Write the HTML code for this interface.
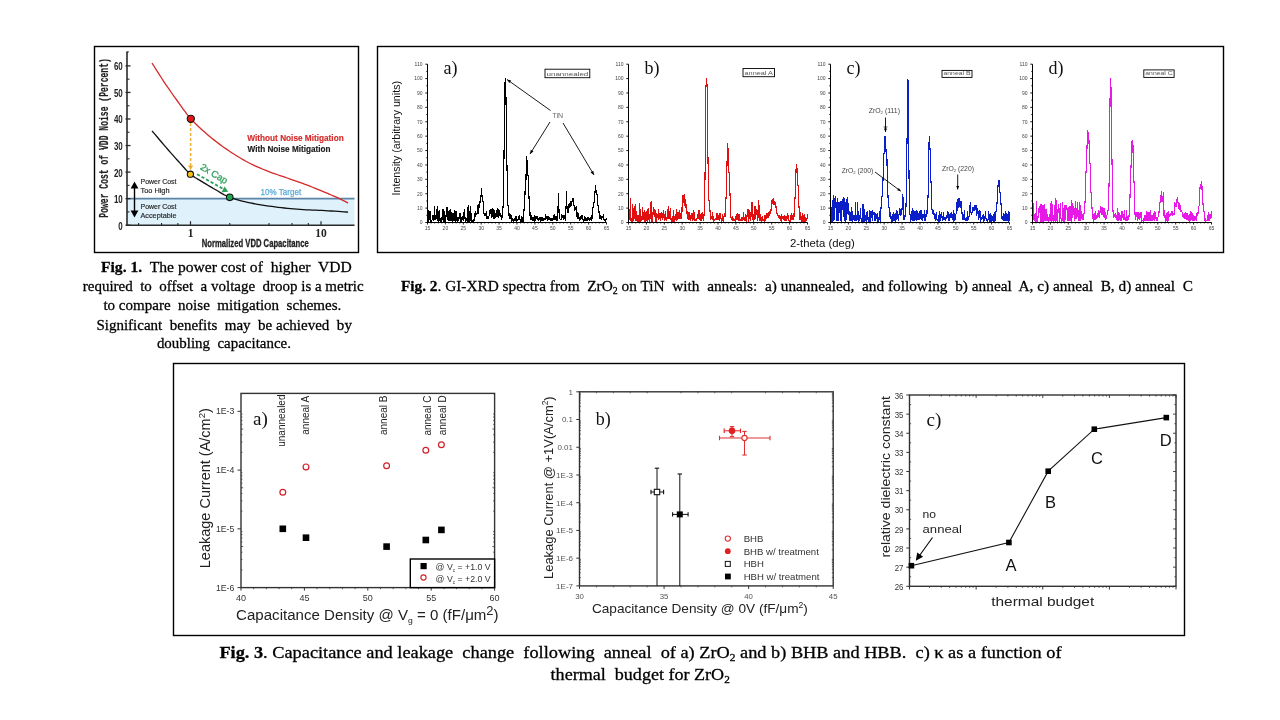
<!DOCTYPE html>
<html><head><meta charset="utf-8"><style>
html,body{margin:0;padding:0;background:#fff;width:1280px;height:720px;overflow:hidden}
svg{display:block;position:absolute;left:0;top:0;will-change:transform}
</style></head><body>
<svg width="1280" height="720" viewBox="0 0 1280 720">
<rect x="94.5" y="46.5" width="264" height="206" stroke="#000" stroke-width="1.4" fill="none" />
<rect x="127.0" y="198.65" width="227.5" height="26.55" fill="#dff1fa"/>
<line x1="127" y1="198.65" x2="354.5" y2="198.65" stroke="#5a84a8" stroke-width="1.6" />
<path d="M152,63 L153.01,64.59 L154.37,66.73 L155.98,69.28 L157.77,72.11 L159.65,75.06 L161.54,78 L163.35,80.8 L165,83.3 L166.51,85.55 L167.96,87.68 L169.38,89.74 L170.78,91.75 L172.19,93.75 L173.64,95.77 L175.13,97.84 L176.7,100 L178.32,102.25 L179.95,104.56 L181.61,106.92 L183.32,109.3 L185.08,111.69 L186.9,114.06 L188.81,116.41 L190.8,118.7 L192.9,120.96 L195.11,123.23 L197.41,125.48 L199.76,127.71 L202.16,129.9 L204.58,132.06 L207,134.16 L209.4,136.2 L211.8,138.18 L214.21,140.12 L216.65,142.01 L219.1,143.86 L221.56,145.66 L224.01,147.42 L226.46,149.13 L228.9,150.8 L231.33,152.42 L233.76,154 L236.18,155.53 L238.61,157.02 L241.03,158.46 L243.45,159.85 L245.88,161.2 L248.3,162.5 L250.72,163.74 L253.15,164.93 L255.57,166.07 L257.99,167.16 L260.42,168.21 L262.84,169.23 L265.27,170.22 L267.7,171.2 L270.14,172.14 L272.61,173.05 L275.08,173.91 L277.55,174.75 L280.01,175.57 L282.44,176.38 L284.84,177.19 L287.2,178 L289.49,178.8 L291.72,179.57 L293.9,180.32 L296.07,181.07 L298.24,181.83 L300.44,182.62 L302.68,183.43 L305,184.3 L307.43,185.23 L309.96,186.21 L312.56,187.24 L315.18,188.28 L317.77,189.33 L320.3,190.36 L322.72,191.36 L325,192.3 L327.16,193.21 L329.26,194.1 L331.29,194.98 L333.24,195.84 L335.1,196.66 L336.85,197.45 L338.49,198.2 L340,198.9 L341.4,199.57 L342.7,200.22 L343.9,200.84 L344.99,201.41 L345.96,201.94 L346.81,202.4 L347.52,202.79 L348.1,203.1" fill="none" stroke="#d42a2a" stroke-width="1.3"/>
<path d="M152,130.8 L153.28,132.31 L155,134.35 L157.05,136.78 L159.31,139.46 L161.68,142.26 L164.05,145.05 L166.29,147.67 L168.3,150 L170.15,152.12 L171.96,154.18 L173.74,156.19 L175.48,158.13 L177.15,159.98 L178.75,161.76 L180.27,163.43 L181.7,165 L183,166.44 L184.16,167.76 L185.22,168.98 L186.22,170.11 L187.2,171.17 L188.19,172.2 L189.25,173.2 L190.4,174.2 L191.62,175.16 L192.85,176.05 L194.12,176.89 L195.41,177.7 L196.75,178.5 L198.14,179.32 L199.59,180.18 L201.1,181.1 L202.7,182.08 L204.38,183.11 L206.12,184.17 L207.91,185.24 L209.73,186.33 L211.56,187.41 L213.39,188.47 L215.2,189.5 L216.96,190.52 L218.67,191.54 L220.36,192.57 L222.07,193.58 L223.83,194.56 L225.68,195.52 L227.64,196.43 L229.75,197.3 L232,198.12 L234.37,198.89 L236.83,199.63 L239.39,200.34 L242.03,201.01 L244.73,201.66 L247.49,202.29 L250.3,202.9 L253.19,203.49 L256.18,204.05 L259.25,204.58 L262.37,205.09 L265.53,205.58 L268.71,206.04 L271.87,206.48 L275,206.9 L278.11,207.29 L281.23,207.66 L284.35,208 L287.48,208.32 L290.61,208.62 L293.74,208.9 L296.87,209.16 L300,209.4 L303.14,209.61 L306.29,209.78 L309.46,209.93 L312.62,210.06 L315.76,210.19 L318.88,210.31 L321.97,210.44 L325,210.6 L328.14,210.78 L331.45,210.99 L334.82,211.21 L338.11,211.42 L341.21,211.63 L343.99,211.82 L346.33,211.98 L348.1,212.1" fill="none" stroke="#111" stroke-width="1.3"/>
<line x1="127" y1="52" x2="127" y2="226" stroke="#2a2a2a" stroke-width="1.6" />
<line x1="126.2" y1="225.2" x2="354.5" y2="225.2" stroke="#2a2a2a" stroke-width="1.6" />
<path d="M126.2,52.5 Q127.0,51.5 128.8,52" stroke="#2a2a2a" stroke-width="1.2" fill="none"/>
<line x1="125.5" y1="225.2" x2="130.5" y2="225.2" stroke="#2a2a2a" stroke-width="1.3" />
<text x="122.8" y="229.7" font-size="11.4" font-family='"Liberation Sans", sans-serif' fill="#222" text-anchor="end" font-weight="bold" transform="translate(122.8,0) scale(0.7,1) translate(-122.8,0)">0</text>
<line x1="125.5" y1="198.65" x2="130.5" y2="198.65" stroke="#2a2a2a" stroke-width="1.3" />
<text x="122.8" y="203.15" font-size="11.4" font-family='"Liberation Sans", sans-serif' fill="#222" text-anchor="end" font-weight="bold" transform="translate(122.8,0) scale(0.7,1) translate(-122.8,0)">10</text>
<line x1="125.5" y1="172.1" x2="130.5" y2="172.1" stroke="#2a2a2a" stroke-width="1.3" />
<text x="122.8" y="176.6" font-size="11.4" font-family='"Liberation Sans", sans-serif' fill="#222" text-anchor="end" font-weight="bold" transform="translate(122.8,0) scale(0.7,1) translate(-122.8,0)">20</text>
<line x1="125.5" y1="145.55" x2="130.5" y2="145.55" stroke="#2a2a2a" stroke-width="1.3" />
<text x="122.8" y="150.05" font-size="11.4" font-family='"Liberation Sans", sans-serif' fill="#222" text-anchor="end" font-weight="bold" transform="translate(122.8,0) scale(0.7,1) translate(-122.8,0)">30</text>
<line x1="125.5" y1="119" x2="130.5" y2="119" stroke="#2a2a2a" stroke-width="1.3" />
<text x="122.8" y="123.5" font-size="11.4" font-family='"Liberation Sans", sans-serif' fill="#222" text-anchor="end" font-weight="bold" transform="translate(122.8,0) scale(0.7,1) translate(-122.8,0)">40</text>
<line x1="125.5" y1="92.45" x2="130.5" y2="92.45" stroke="#2a2a2a" stroke-width="1.3" />
<text x="122.8" y="96.95" font-size="11.4" font-family='"Liberation Sans", sans-serif' fill="#222" text-anchor="end" font-weight="bold" transform="translate(122.8,0) scale(0.7,1) translate(-122.8,0)">50</text>
<line x1="125.5" y1="65.9" x2="130.5" y2="65.9" stroke="#2a2a2a" stroke-width="1.3" />
<text x="122.8" y="70.4" font-size="11.4" font-family='"Liberation Sans", sans-serif' fill="#222" text-anchor="end" font-weight="bold" transform="translate(122.8,0) scale(0.7,1) translate(-122.8,0)">60</text>
<line x1="127" y1="211.92" x2="129.5" y2="211.92" stroke="#2a2a2a" stroke-width="1.1" />
<line x1="127" y1="185.38" x2="129.5" y2="185.38" stroke="#2a2a2a" stroke-width="1.1" />
<line x1="127" y1="158.82" x2="129.5" y2="158.82" stroke="#2a2a2a" stroke-width="1.1" />
<line x1="127" y1="132.27" x2="129.5" y2="132.27" stroke="#2a2a2a" stroke-width="1.1" />
<line x1="127" y1="105.72" x2="129.5" y2="105.72" stroke="#2a2a2a" stroke-width="1.1" />
<line x1="127" y1="79.18" x2="129.5" y2="79.18" stroke="#2a2a2a" stroke-width="1.1" />
<line x1="138.57" y1="225.2" x2="138.57" y2="223" stroke="#2a2a2a" stroke-width="1.1" />
<line x1="161.55" y1="225.2" x2="161.55" y2="223" stroke="#2a2a2a" stroke-width="1.1" />
<line x1="177.85" y1="225.2" x2="177.85" y2="223" stroke="#2a2a2a" stroke-width="1.1" />
<line x1="229.78" y1="225.2" x2="229.78" y2="223" stroke="#2a2a2a" stroke-width="1.1" />
<line x1="269.07" y1="225.2" x2="269.07" y2="223" stroke="#2a2a2a" stroke-width="1.1" />
<line x1="292.05" y1="225.2" x2="292.05" y2="223" stroke="#2a2a2a" stroke-width="1.1" />
<line x1="308.35" y1="225.2" x2="308.35" y2="223" stroke="#2a2a2a" stroke-width="1.1" />
<line x1="190.5" y1="225.2" x2="190.5" y2="221.2" stroke="#2a2a2a" stroke-width="1.2" />
<line x1="321" y1="225.2" x2="321" y2="221.2" stroke="#2a2a2a" stroke-width="1.2" />
<text x="190.5" y="237" font-size="11.5" font-family='"Liberation Serif", serif' fill="#222" text-anchor="middle" font-weight="bold" >1</text>
<text x="321" y="237" font-size="11.5" font-family='"Liberation Serif", serif' fill="#222" text-anchor="middle" font-weight="bold" >10</text>
<text x="201.8" y="246.8" font-size="10.4" font-family='"Liberation Sans", sans-serif' fill="#222" text-anchor="start" font-weight="bold" textLength="107" lengthAdjust="spacingAndGlyphs" stroke="#222" stroke-width="0.3">Normalized VDD Capacitance</text>
<text x="0" y="0" font-size="12" font-family='"Liberation Mono", monospace' font-weight="bold" fill="#222" text-anchor="middle" stroke="#222" stroke-width="0.15" textLength="159.5" lengthAdjust="spacingAndGlyphs" transform="translate(108.2,137.9) rotate(-90)">Power Cost of VDD Noise (Percent)</text>
<text x="247.3" y="140.9" font-size="8.6" font-family='"Liberation Sans", sans-serif' fill="#d42a2a" text-anchor="start" font-weight="bold" textLength="96.4" lengthAdjust="spacingAndGlyphs" stroke="#d42a2a" stroke-width="0.15">Without Noise Mitigation</text>
<text x="247.5" y="151.8" font-size="8.6" font-family='"Liberation Sans", sans-serif' fill="#1a1a1a" text-anchor="start" font-weight="bold" textLength="83" lengthAdjust="spacingAndGlyphs" stroke="#1a1a1a" stroke-width="0.15">With Noise Mitigation</text>
<text x="260.6" y="195.2" font-size="8.6" font-family='"Liberation Sans", sans-serif' fill="#5aaad6" text-anchor="start" textLength="40.6" lengthAdjust="spacingAndGlyphs" stroke="#5aaad6" stroke-width="0.25">10% Target</text>
<text x="140.5" y="183.5" font-size="6.8" font-family='"Liberation Sans", sans-serif' fill="#2a2a2a" text-anchor="start" textLength="36" lengthAdjust="spacingAndGlyphs" stroke="#2a2a2a" stroke-width="0.18">Power Cost</text>
<text x="140.5" y="192.8" font-size="6.8" font-family='"Liberation Sans", sans-serif' fill="#2a2a2a" text-anchor="start" textLength="29" lengthAdjust="spacingAndGlyphs" stroke="#2a2a2a" stroke-width="0.18">Too High</text>
<text x="140.5" y="208.5" font-size="6.8" font-family='"Liberation Sans", sans-serif' fill="#2a2a2a" text-anchor="start" textLength="36" lengthAdjust="spacingAndGlyphs" stroke="#2a2a2a" stroke-width="0.18">Power Cost</text>
<text x="140.5" y="217.8" font-size="6.8" font-family='"Liberation Sans", sans-serif' fill="#2a2a2a" text-anchor="start" textLength="36" lengthAdjust="spacingAndGlyphs" stroke="#2a2a2a" stroke-width="0.18">Acceptable</text>
<line x1="134.5" y1="185" x2="134.5" y2="214" stroke="#000" stroke-width="1.4" />
<path d="M130.6,188.5 L134.5,181.5 L138.4,188.5 Z" fill="#000"/>
<path d="M130.6,210.5 L134.5,217.5 L138.4,210.5 Z" fill="#000"/>
<line x1="190.6" y1="123" x2="190.6" y2="166.5" stroke="#eeb035" stroke-width="1.5" stroke-dasharray="3,2"/>
<path d="M188,165.5 L190.6,170.2 L193.2,165.5 Z" fill="#eeb035"/>
<line x1="197" y1="174.2" x2="224.5" y2="189.6" stroke="#2aa05a" stroke-width="1.8" stroke-dasharray="3.2,2"/>
<path d="M221.5,192.3 L228.3,191.8 L224.6,186.4 Z" fill="#2aa05a"/>
<text x="0" y="0" font-size="9.5" font-family='"Liberation Sans", sans-serif' fill="#35a060" stroke="#35a060" stroke-width="0.3" textLength="30" lengthAdjust="spacingAndGlyphs" transform="translate(199.5,168.8) rotate(31)">2x Cap</text>
<circle cx="190.8" cy="118.8" r="3.6" fill="#e01818" stroke="#111" stroke-width="1.1"/>
<circle cx="190.4" cy="174.2" r="3.1" fill="#f5c21b" stroke="#111" stroke-width="1.1"/>
<circle cx="229.75" cy="197.3" r="3.3" fill="#1fa851" stroke="#111" stroke-width="1.1"/>
<rect x="377.5" y="46.5" width="846" height="206" stroke="#000" stroke-width="1.4" fill="none" />
<path d="M427.50,220.3 L427.89,221.7 L428.28,221.7 L428.67,209.7 L429.06,211.9 L429.45,216.1 L429.83,219.5 L430.22,211.2 L430.61,221.6 L431.00,221.3 L431.39,219.8 L431.78,221.7 L432.17,219.1 L432.56,218.8 L432.95,214.7 L433.34,217.8 L433.73,220.6 L434.12,219.3 L434.50,206.4 L434.89,217.1 L435.28,214.8 L435.67,218.8 L436.06,218.5 L436.45,214.7 L436.84,212.1 L437.23,207.6 L437.62,205.8 L438.01,220.9 L438.40,221.7 L438.78,210.6 L439.17,220.7 L439.56,210.5 L439.95,221.3 L440.34,218.4 L440.73,221.8 L441.12,217.2 L441.51,218.0 L441.90,221.7 L442.29,210.8 L442.68,219.5 L443.07,209.1 L443.45,210.3 L443.84,221.6 L444.23,210.8 L444.62,220.9 L445.01,221.6 L445.40,218.7 L445.79,221.6 L446.18,211.9 L446.57,208.8 L446.96,207.2 L447.35,211.1 L447.73,219.8 L448.12,217.7 L448.51,221.1 L448.90,211.3 L449.29,213.9 L449.68,210.1 L450.07,220.8 L450.46,218.9 L450.85,208.7 L451.24,221.0 L451.63,216.2 L452.02,218.5 L452.40,221.7 L452.79,213.0 L453.18,221.3 L453.57,212.6 L453.96,219.5 L454.35,221.4 L454.74,210.0 L455.13,211.9 L455.52,220.0 L455.91,221.8 L456.30,217.8 L456.68,210.8 L457.07,220.9 L457.46,216.8 L457.85,221.5 L458.24,218.8 L458.63,219.2 L459.02,217.7 L459.41,219.0 L459.80,212.6 L460.19,214.2 L460.58,217.9 L460.97,221.6 L461.35,220.7 L461.74,217.2 L462.13,219.0 L462.52,218.0 L462.91,217.7 L463.30,214.7 L463.69,220.8 L464.08,211.6 L464.47,208.9 L464.86,215.3 L465.25,221.4 L465.63,221.5 L466.02,221.1 L466.41,218.4 L466.80,221.4 L467.19,220.1 L467.58,207.1 L467.97,221.8 L468.36,204.6 L468.75,208.2 L469.14,221.8 L469.53,221.7 L469.92,212.2 L470.30,209.8 L470.69,206.4 L471.08,221.9 L471.47,212.9 L471.86,222.0 L472.25,220.8 L472.64,221.2 L473.03,221.0 L473.42,221.9 L473.81,220.5 L474.20,218.2 L474.58,220.5 L474.97,213.0 L475.36,216.5 L475.75,211.1 L476.14,214.3 L476.53,214.5 L476.92,213.1 L477.31,212.5 L477.70,205.2 L478.09,214.4 L478.48,204.2 L478.87,208.5 L479.25,205.4 L479.64,201.4 L480.03,203.2 L480.42,197.9 L480.81,200.1 L481.20,193.1 L481.59,188.2 L481.98,195.3 L482.37,197.4 L482.76,196.9 L483.15,204.0 L483.53,207.1 L483.92,212.9 L484.31,214.6 L484.70,213.6 L485.09,216.0 L485.48,212.6 L485.87,215.1 L486.26,211.0 L486.65,214.0 L487.04,218.9 L487.43,216.3 L487.82,218.1 L488.20,218.9 L488.59,218.7 L488.98,216.1 L489.37,213.9 L489.76,209.7 L490.15,212.9 L490.54,209.3 L490.93,213.5 L491.32,215.6 L491.71,218.1 L492.10,208.5 L492.48,216.2 L492.87,216.2 L493.26,209.2 L493.65,218.0 L494.04,218.0 L494.43,210.3 L494.82,210.1 L495.21,218.2 L495.60,217.3 L495.99,217.2 L496.38,212.5 L496.77,209.6 L497.15,217.4 L497.54,208.2 L497.93,216.3 L498.32,218.2 L498.71,209.5 L499.10,215.8 L499.49,209.6 L499.88,215.1 L500.27,214.7 L500.66,213.6 L501.05,217.2 L501.43,215.5 L501.82,219.8 L502.21,216.0 L502.60,214.8 L502.99,207.9 L503.38,194.1 L503.77,177.3 L504.16,140.9 L504.55,103.7 L504.94,84.2 L505.33,78.7 L505.72,78.6 L506.10,107.3 L506.49,136.6 L506.88,159.1 L507.27,186.1 L507.66,200.2 L508.05,206.3 L508.44,205.0 L508.83,216.0 L509.22,212.7 L509.61,218.9 L510.00,217.8 L510.38,218.0 L510.77,213.9 L511.16,216.1 L511.55,221.6 L511.94,218.1 L512.33,219.7 L512.72,220.7 L513.11,221.0 L513.50,218.8 L513.89,220.9 L514.28,218.2 L514.67,219.7 L515.05,220.7 L515.44,215.7 L515.83,218.4 L516.22,217.9 L516.61,215.7 L517.00,220.8 L517.39,220.6 L517.78,220.9 L518.17,218.5 L518.56,220.2 L518.95,216.3 L519.33,216.4 L519.72,215.4 L520.11,220.9 L520.50,221.1 L520.89,220.3 L521.28,221.2 L521.67,216.5 L522.06,221.6 L522.45,216.6 L522.84,220.9 L523.23,221.5 L523.62,220.6 L524.00,209.9 L524.39,210.2 L524.78,198.9 L525.17,189.1 L525.56,180.2 L525.95,181.4 L526.34,155.8 L526.73,168.9 L527.12,159.7 L527.51,169.9 L527.90,174.2 L528.28,179.2 L528.67,187.9 L529.06,199.4 L529.45,205.4 L529.84,216.0 L530.23,211.7 L530.62,220.4 L531.01,219.4 L531.40,219.6 L531.79,216.7 L532.18,217.4 L532.57,220.4 L532.95,220.8 L533.34,216.6 L533.73,220.2 L534.12,220.8 L534.51,215.4 L534.90,217.0 L535.29,220.3 L535.68,220.2 L536.07,216.0 L536.46,219.3 L536.85,215.8 L537.23,218.4 L537.62,220.2 L538.01,218.5 L538.40,220.3 L538.79,220.2 L539.18,217.2 L539.57,220.3 L539.96,218.3 L540.35,217.9 L540.74,219.9 L541.13,218.7 L541.52,216.6 L541.90,220.1 L542.29,220.3 L542.68,217.0 L543.07,219.3 L543.46,218.8 L543.85,220.3 L544.24,219.1 L544.63,219.0 L545.02,219.1 L545.41,220.1 L545.80,215.5 L546.18,216.0 L546.57,218.4 L546.96,217.2 L547.35,216.7 L547.74,220.1 L548.13,219.6 L548.52,217.7 L548.91,218.7 L549.30,216.8 L549.69,218.8 L550.08,219.5 L550.47,218.2 L550.85,220.3 L551.24,220.1 L551.63,219.3 L552.02,220.3 L552.41,220.3 L552.80,220.3 L553.19,217.6 L553.58,220.3 L553.97,215.8 L554.36,215.3 L554.75,220.2 L555.13,215.7 L555.52,217.2 L555.91,219.7 L556.30,216.3 L556.69,220.2 L557.08,220.1 L557.47,215.4 L557.86,215.4 L558.25,198.8 L558.64,192.6 L559.03,212.7 L559.42,217.1 L559.80,218.3 L560.19,220.0 L560.58,219.7 L560.97,220.2 L561.36,216.7 L561.75,215.0 L562.14,215.7 L562.53,218.4 L562.92,215.8 L563.31,216.0 L563.70,220.4 L564.08,218.4 L564.47,217.9 L564.86,215.0 L565.25,221.3 L565.64,214.7 L566.03,208.1 L566.42,191.1 L566.81,201.8 L567.20,213.2 L567.59,209.5 L567.98,211.3 L568.37,212.8 L568.75,206.2 L569.14,203.4 L569.53,205.9 L569.92,207.6 L570.31,203.1 L570.70,200.8 L571.09,206.2 L571.48,204.1 L571.87,202.9 L572.26,199.3 L572.65,199.6 L573.03,198.5 L573.42,205.4 L573.81,203.6 L574.20,207.7 L574.59,210.2 L574.98,210.0 L575.37,209.7 L575.76,208.3 L576.15,206.4 L576.54,217.4 L576.93,212.0 L577.32,217.9 L577.70,213.9 L578.09,219.3 L578.48,212.9 L578.87,216.7 L579.26,218.4 L579.65,221.1 L580.04,218.5 L580.43,219.2 L580.82,217.1 L581.21,215.2 L581.60,218.7 L581.98,217.1 L582.37,216.5 L582.76,218.5 L583.15,220.1 L583.54,221.1 L583.93,221.3 L584.32,216.2 L584.71,218.0 L585.10,220.5 L585.49,216.6 L585.88,218.6 L586.27,219.1 L586.65,218.7 L587.04,220.5 L587.43,217.1 L587.82,221.1 L588.21,217.0 L588.60,217.3 L588.99,219.9 L589.38,219.1 L589.77,221.4 L590.16,218.6 L590.55,217.8 L590.93,219.6 L591.32,221.3 L591.71,215.0 L592.10,219.2 L592.49,215.1 L592.88,208.1 L593.27,206.6 L593.66,205.1 L594.05,201.8 L594.44,194.5 L594.83,195.1 L595.22,188.5 L595.60,184.8 L595.99,191.2 L596.38,190.7 L596.77,193.4 L597.16,195.2 L597.55,199.0 L597.94,204.7 L598.33,210.3 L598.72,207.3 L599.11,213.8 L599.50,217.4 L599.88,217.9 L600.27,219.3 L600.66,215.6 L601.05,216.6 L601.44,219.0 L601.83,218.4 L602.22,217.4 L602.61,216.0 L603.00,217.9 L603.39,214.1 L603.78,218.9 L604.17,220.8 L604.55,220.1 L604.94,218.7 L605.33,221.1 L605.72,221.6 L606.11,218.1 L606.50,220.1" fill="none" stroke="#000000" stroke-width="1.1" stroke-linejoin="miter" shape-rendering="crispEdges"/>
<line x1="427.5" y1="64.2" x2="427.5" y2="223" stroke="#000" stroke-width="1.0" />
<line x1="427" y1="222.5" x2="606.5" y2="222.5" stroke="#000" stroke-width="1.0" />
<line x1="425.3" y1="222.5" x2="427.5" y2="222.5" stroke="#000" stroke-width="0.9" />
<text x="422.5" y="224.3" font-size="5" font-family='"Liberation Sans", sans-serif' fill="#444" text-anchor="end" >0</text>
<line x1="425.3" y1="208.11" x2="427.5" y2="208.11" stroke="#000" stroke-width="0.9" />
<text x="422.5" y="209.91" font-size="5" font-family='"Liberation Sans", sans-serif' fill="#444" text-anchor="end" >10</text>
<line x1="425.3" y1="193.72" x2="427.5" y2="193.72" stroke="#000" stroke-width="0.9" />
<text x="422.5" y="195.52" font-size="5" font-family='"Liberation Sans", sans-serif' fill="#444" text-anchor="end" >20</text>
<line x1="425.3" y1="179.33" x2="427.5" y2="179.33" stroke="#000" stroke-width="0.9" />
<text x="422.5" y="181.13" font-size="5" font-family='"Liberation Sans", sans-serif' fill="#444" text-anchor="end" >30</text>
<line x1="425.3" y1="164.94" x2="427.5" y2="164.94" stroke="#000" stroke-width="0.9" />
<text x="422.5" y="166.74" font-size="5" font-family='"Liberation Sans", sans-serif' fill="#444" text-anchor="end" >40</text>
<line x1="425.3" y1="150.55" x2="427.5" y2="150.55" stroke="#000" stroke-width="0.9" />
<text x="422.5" y="152.35" font-size="5" font-family='"Liberation Sans", sans-serif' fill="#444" text-anchor="end" >50</text>
<line x1="425.3" y1="136.15" x2="427.5" y2="136.15" stroke="#000" stroke-width="0.9" />
<text x="422.5" y="137.95" font-size="5" font-family='"Liberation Sans", sans-serif' fill="#444" text-anchor="end" >60</text>
<line x1="425.3" y1="121.76" x2="427.5" y2="121.76" stroke="#000" stroke-width="0.9" />
<text x="422.5" y="123.56" font-size="5" font-family='"Liberation Sans", sans-serif' fill="#444" text-anchor="end" >70</text>
<line x1="425.3" y1="107.37" x2="427.5" y2="107.37" stroke="#000" stroke-width="0.9" />
<text x="422.5" y="109.17" font-size="5" font-family='"Liberation Sans", sans-serif' fill="#444" text-anchor="end" >80</text>
<line x1="425.3" y1="92.98" x2="427.5" y2="92.98" stroke="#000" stroke-width="0.9" />
<text x="422.5" y="94.78" font-size="5" font-family='"Liberation Sans", sans-serif' fill="#444" text-anchor="end" >90</text>
<line x1="425.3" y1="78.59" x2="427.5" y2="78.59" stroke="#000" stroke-width="0.9" />
<text x="422.5" y="80.39" font-size="5" font-family='"Liberation Sans", sans-serif' fill="#444" text-anchor="end" >100</text>
<line x1="425.3" y1="64.2" x2="427.5" y2="64.2" stroke="#000" stroke-width="0.9" />
<text x="422.5" y="66" font-size="5" font-family='"Liberation Sans", sans-serif' fill="#444" text-anchor="end" >110</text>
<line x1="426.2" y1="215.3" x2="427.5" y2="215.3" stroke="#000" stroke-width="0.8" />
<line x1="426.2" y1="200.91" x2="427.5" y2="200.91" stroke="#000" stroke-width="0.8" />
<line x1="426.2" y1="186.52" x2="427.5" y2="186.52" stroke="#000" stroke-width="0.8" />
<line x1="426.2" y1="172.13" x2="427.5" y2="172.13" stroke="#000" stroke-width="0.8" />
<line x1="426.2" y1="157.74" x2="427.5" y2="157.74" stroke="#000" stroke-width="0.8" />
<line x1="426.2" y1="143.35" x2="427.5" y2="143.35" stroke="#000" stroke-width="0.8" />
<line x1="426.2" y1="128.96" x2="427.5" y2="128.96" stroke="#000" stroke-width="0.8" />
<line x1="426.2" y1="114.57" x2="427.5" y2="114.57" stroke="#000" stroke-width="0.8" />
<line x1="426.2" y1="100.18" x2="427.5" y2="100.18" stroke="#000" stroke-width="0.8" />
<line x1="426.2" y1="85.79" x2="427.5" y2="85.79" stroke="#000" stroke-width="0.8" />
<line x1="426.2" y1="71.4" x2="427.5" y2="71.4" stroke="#000" stroke-width="0.8" />
<line x1="427.5" y1="222.5" x2="427.5" y2="224.5" stroke="#000" stroke-width="0.9" />
<text x="427.5" y="229.9" font-size="5" font-family='"Liberation Sans", sans-serif' fill="#444" text-anchor="middle" >15</text>
<line x1="445.4" y1="222.5" x2="445.4" y2="224.5" stroke="#000" stroke-width="0.9" />
<text x="445.4" y="229.9" font-size="5" font-family='"Liberation Sans", sans-serif' fill="#444" text-anchor="middle" >20</text>
<line x1="463.3" y1="222.5" x2="463.3" y2="224.5" stroke="#000" stroke-width="0.9" />
<text x="463.3" y="229.9" font-size="5" font-family='"Liberation Sans", sans-serif' fill="#444" text-anchor="middle" >25</text>
<line x1="481.2" y1="222.5" x2="481.2" y2="224.5" stroke="#000" stroke-width="0.9" />
<text x="481.2" y="229.9" font-size="5" font-family='"Liberation Sans", sans-serif' fill="#444" text-anchor="middle" >30</text>
<line x1="499.1" y1="222.5" x2="499.1" y2="224.5" stroke="#000" stroke-width="0.9" />
<text x="499.1" y="229.9" font-size="5" font-family='"Liberation Sans", sans-serif' fill="#444" text-anchor="middle" >35</text>
<line x1="517" y1="222.5" x2="517" y2="224.5" stroke="#000" stroke-width="0.9" />
<text x="517" y="229.9" font-size="5" font-family='"Liberation Sans", sans-serif' fill="#444" text-anchor="middle" >40</text>
<line x1="534.9" y1="222.5" x2="534.9" y2="224.5" stroke="#000" stroke-width="0.9" />
<text x="534.9" y="229.9" font-size="5" font-family='"Liberation Sans", sans-serif' fill="#444" text-anchor="middle" >45</text>
<line x1="552.8" y1="222.5" x2="552.8" y2="224.5" stroke="#000" stroke-width="0.9" />
<text x="552.8" y="229.9" font-size="5" font-family='"Liberation Sans", sans-serif' fill="#444" text-anchor="middle" >50</text>
<line x1="570.7" y1="222.5" x2="570.7" y2="224.5" stroke="#000" stroke-width="0.9" />
<text x="570.7" y="229.9" font-size="5" font-family='"Liberation Sans", sans-serif' fill="#444" text-anchor="middle" >55</text>
<line x1="588.6" y1="222.5" x2="588.6" y2="224.5" stroke="#000" stroke-width="0.9" />
<text x="588.6" y="229.9" font-size="5" font-family='"Liberation Sans", sans-serif' fill="#444" text-anchor="middle" >60</text>
<line x1="606.5" y1="222.5" x2="606.5" y2="224.5" stroke="#000" stroke-width="0.9" />
<text x="606.5" y="229.9" font-size="5" font-family='"Liberation Sans", sans-serif' fill="#444" text-anchor="middle" >65</text>
<line x1="431.08" y1="222.5" x2="431.08" y2="223.7" stroke="#000" stroke-width="0.6" />
<line x1="434.66" y1="222.5" x2="434.66" y2="223.7" stroke="#000" stroke-width="0.6" />
<line x1="438.24" y1="222.5" x2="438.24" y2="223.7" stroke="#000" stroke-width="0.6" />
<line x1="441.82" y1="222.5" x2="441.82" y2="223.7" stroke="#000" stroke-width="0.6" />
<line x1="448.98" y1="222.5" x2="448.98" y2="223.7" stroke="#000" stroke-width="0.6" />
<line x1="452.56" y1="222.5" x2="452.56" y2="223.7" stroke="#000" stroke-width="0.6" />
<line x1="456.14" y1="222.5" x2="456.14" y2="223.7" stroke="#000" stroke-width="0.6" />
<line x1="459.72" y1="222.5" x2="459.72" y2="223.7" stroke="#000" stroke-width="0.6" />
<line x1="466.88" y1="222.5" x2="466.88" y2="223.7" stroke="#000" stroke-width="0.6" />
<line x1="470.46" y1="222.5" x2="470.46" y2="223.7" stroke="#000" stroke-width="0.6" />
<line x1="474.04" y1="222.5" x2="474.04" y2="223.7" stroke="#000" stroke-width="0.6" />
<line x1="477.62" y1="222.5" x2="477.62" y2="223.7" stroke="#000" stroke-width="0.6" />
<line x1="484.78" y1="222.5" x2="484.78" y2="223.7" stroke="#000" stroke-width="0.6" />
<line x1="488.36" y1="222.5" x2="488.36" y2="223.7" stroke="#000" stroke-width="0.6" />
<line x1="491.94" y1="222.5" x2="491.94" y2="223.7" stroke="#000" stroke-width="0.6" />
<line x1="495.52" y1="222.5" x2="495.52" y2="223.7" stroke="#000" stroke-width="0.6" />
<line x1="502.68" y1="222.5" x2="502.68" y2="223.7" stroke="#000" stroke-width="0.6" />
<line x1="506.26" y1="222.5" x2="506.26" y2="223.7" stroke="#000" stroke-width="0.6" />
<line x1="509.84" y1="222.5" x2="509.84" y2="223.7" stroke="#000" stroke-width="0.6" />
<line x1="513.42" y1="222.5" x2="513.42" y2="223.7" stroke="#000" stroke-width="0.6" />
<line x1="520.58" y1="222.5" x2="520.58" y2="223.7" stroke="#000" stroke-width="0.6" />
<line x1="524.16" y1="222.5" x2="524.16" y2="223.7" stroke="#000" stroke-width="0.6" />
<line x1="527.74" y1="222.5" x2="527.74" y2="223.7" stroke="#000" stroke-width="0.6" />
<line x1="531.32" y1="222.5" x2="531.32" y2="223.7" stroke="#000" stroke-width="0.6" />
<line x1="538.48" y1="222.5" x2="538.48" y2="223.7" stroke="#000" stroke-width="0.6" />
<line x1="542.06" y1="222.5" x2="542.06" y2="223.7" stroke="#000" stroke-width="0.6" />
<line x1="545.64" y1="222.5" x2="545.64" y2="223.7" stroke="#000" stroke-width="0.6" />
<line x1="549.22" y1="222.5" x2="549.22" y2="223.7" stroke="#000" stroke-width="0.6" />
<line x1="556.38" y1="222.5" x2="556.38" y2="223.7" stroke="#000" stroke-width="0.6" />
<line x1="559.96" y1="222.5" x2="559.96" y2="223.7" stroke="#000" stroke-width="0.6" />
<line x1="563.54" y1="222.5" x2="563.54" y2="223.7" stroke="#000" stroke-width="0.6" />
<line x1="567.12" y1="222.5" x2="567.12" y2="223.7" stroke="#000" stroke-width="0.6" />
<line x1="574.28" y1="222.5" x2="574.28" y2="223.7" stroke="#000" stroke-width="0.6" />
<line x1="577.86" y1="222.5" x2="577.86" y2="223.7" stroke="#000" stroke-width="0.6" />
<line x1="581.44" y1="222.5" x2="581.44" y2="223.7" stroke="#000" stroke-width="0.6" />
<line x1="585.02" y1="222.5" x2="585.02" y2="223.7" stroke="#000" stroke-width="0.6" />
<line x1="592.18" y1="222.5" x2="592.18" y2="223.7" stroke="#000" stroke-width="0.6" />
<line x1="595.76" y1="222.5" x2="595.76" y2="223.7" stroke="#000" stroke-width="0.6" />
<line x1="599.34" y1="222.5" x2="599.34" y2="223.7" stroke="#000" stroke-width="0.6" />
<line x1="602.92" y1="222.5" x2="602.92" y2="223.7" stroke="#000" stroke-width="0.6" />
<rect x="545" y="69.2" width="44.8" height="8.5" stroke="#000" stroke-width="0.9" fill="#fff" />
<text x="567.4" y="75.6" font-size="5.2" font-family='"Liberation Sans", sans-serif' fill="#555" text-anchor="middle" textLength="41.8" lengthAdjust="spacingAndGlyphs" >unannealed</text>
<text x="443.5" y="73.8" font-size="18" font-family='"Liberation Serif", serif' fill="#111" text-anchor="start" >a)</text>
<path d="M628.50,219.1 L628.89,207.4 L629.28,215.3 L629.67,219.1 L630.06,218.7 L630.45,198.3 L630.83,220.5 L631.22,217.8 L631.61,218.9 L632.00,221.7 L632.39,208.5 L632.78,204.4 L633.17,212.5 L633.56,221.3 L633.95,219.2 L634.34,208.3 L634.73,213.8 L635.12,204.5 L635.50,220.9 L635.89,209.9 L636.28,215.1 L636.67,221.4 L637.06,217.1 L637.45,216.4 L637.84,221.8 L638.23,214.9 L638.62,218.7 L639.01,221.7 L639.40,221.8 L639.78,203.1 L640.17,216.2 L640.56,221.8 L640.95,219.3 L641.34,216.9 L641.73,220.8 L642.12,215.2 L642.51,207.0 L642.90,220.2 L643.29,212.5 L643.68,219.6 L644.07,213.1 L644.45,210.5 L644.84,221.7 L645.23,221.0 L645.62,212.4 L646.01,213.7 L646.40,211.3 L646.79,220.8 L647.18,209.2 L647.57,221.8 L647.96,212.5 L648.35,208.4 L648.73,219.8 L649.12,217.8 L649.51,221.7 L649.90,221.5 L650.29,203.6 L650.68,218.5 L651.07,201.0 L651.46,221.6 L651.85,211.4 L652.24,221.6 L652.63,212.0 L653.02,215.1 L653.40,207.4 L653.79,212.3 L654.18,216.7 L654.57,210.5 L654.96,211.3 L655.35,209.8 L655.74,221.4 L656.13,221.7 L656.52,219.3 L656.91,213.5 L657.30,216.6 L657.68,213.8 L658.07,217.6 L658.46,209.5 L658.85,220.4 L659.24,212.8 L659.63,219.4 L660.02,215.7 L660.41,213.3 L660.80,220.9 L661.19,213.2 L661.58,212.8 L661.97,217.5 L662.35,213.3 L662.74,220.2 L663.13,213.5 L663.52,210.5 L663.91,215.8 L664.30,220.9 L664.69,219.0 L665.08,214.1 L665.47,211.4 L665.86,218.8 L666.25,221.3 L666.63,220.1 L667.02,218.3 L667.41,208.9 L667.80,216.6 L668.19,217.2 L668.58,206.3 L668.97,218.7 L669.36,213.9 L669.75,214.2 L670.14,210.4 L670.53,208.5 L670.92,219.1 L671.30,221.7 L671.69,221.6 L672.08,217.7 L672.47,216.0 L672.86,221.5 L673.25,210.1 L673.64,211.2 L674.03,221.8 L674.42,216.4 L674.81,221.5 L675.20,215.8 L675.58,214.6 L675.97,219.7 L676.36,220.1 L676.75,209.5 L677.14,220.4 L677.53,212.0 L677.92,220.1 L678.31,212.2 L678.70,219.1 L679.09,217.7 L679.48,209.7 L679.87,219.2 L680.25,216.9 L680.64,213.5 L681.03,218.5 L681.42,212.7 L681.81,206.7 L682.20,207.7 L682.59,212.3 L682.98,195.3 L683.37,197.6 L683.76,203.3 L684.15,199.0 L684.53,194.2 L684.92,205.6 L685.31,198.9 L685.70,207.5 L686.09,204.2 L686.48,207.0 L686.87,213.6 L687.26,210.7 L687.65,215.8 L688.04,218.5 L688.43,212.3 L688.82,220.1 L689.20,212.1 L689.59,213.1 L689.98,218.5 L690.37,218.0 L690.76,220.8 L691.15,213.2 L691.54,218.9 L691.93,212.8 L692.32,217.8 L692.71,220.4 L693.10,220.0 L693.48,211.9 L693.87,209.9 L694.26,217.6 L694.65,212.7 L695.04,220.2 L695.43,219.6 L695.82,220.2 L696.21,220.1 L696.60,220.1 L696.99,218.8 L697.38,217.6 L697.77,214.3 L698.15,219.2 L698.54,213.9 L698.93,210.3 L699.32,211.6 L699.71,216.4 L700.10,220.4 L700.49,220.6 L700.88,214.6 L701.27,214.3 L701.66,220.5 L702.05,216.2 L702.43,211.6 L702.82,218.8 L703.21,219.6 L703.60,220.5 L703.99,215.8 L704.38,205.9 L704.77,196.0 L705.16,164.4 L705.55,137.2 L705.94,87.6 L706.33,78.6 L706.72,78.7 L707.10,87.0 L707.49,108.4 L707.88,151.5 L708.27,178.1 L708.66,196.4 L709.05,200.5 L709.44,211.5 L709.83,210.5 L710.22,210.8 L710.61,219.7 L711.00,218.0 L711.38,219.3 L711.77,216.9 L712.16,216.4 L712.55,212.0 L712.94,219.4 L713.33,220.1 L713.72,218.1 L714.11,219.3 L714.50,219.8 L714.89,220.3 L715.28,218.9 L715.67,220.3 L716.05,218.2 L716.44,220.2 L716.83,213.1 L717.22,214.0 L717.61,218.9 L718.00,218.6 L718.39,218.8 L718.78,220.0 L719.17,213.3 L719.56,221.0 L719.95,218.3 L720.33,213.0 L720.72,217.7 L721.11,218.6 L721.50,220.3 L721.89,219.0 L722.28,217.3 L722.67,214.3 L723.06,220.7 L723.45,221.4 L723.84,219.2 L724.23,213.3 L724.62,216.5 L725.00,216.8 L725.39,209.5 L725.78,204.2 L726.17,193.9 L726.56,176.5 L726.95,160.6 L727.34,166.1 L727.73,143.0 L728.12,152.7 L728.51,147.6 L728.90,171.5 L729.28,174.1 L729.67,183.7 L730.06,196.0 L730.45,205.2 L730.84,216.1 L731.23,220.2 L731.62,216.9 L732.01,219.0 L732.40,220.6 L732.79,215.6 L733.18,220.6 L733.57,220.4 L733.95,218.7 L734.34,221.2 L734.73,220.0 L735.12,220.4 L735.51,217.3 L735.90,216.8 L736.29,215.0 L736.68,215.0 L737.07,220.0 L737.46,213.1 L737.85,218.9 L738.23,220.9 L738.62,214.1 L739.01,220.5 L739.40,214.5 L739.79,218.5 L740.18,219.8 L740.57,220.2 L740.96,220.8 L741.35,217.3 L741.74,219.9 L742.13,221.0 L742.52,220.9 L742.90,219.7 L743.29,214.3 L743.68,211.8 L744.07,220.0 L744.46,216.8 L744.85,220.0 L745.24,220.9 L745.63,214.0 L746.02,220.7 L746.41,221.0 L746.80,220.5 L747.18,212.2 L747.57,213.0 L747.96,209.0 L748.35,221.0 L748.74,221.0 L749.13,210.2 L749.52,211.4 L749.91,218.4 L750.30,219.7 L750.69,218.0 L751.08,211.6 L751.47,202.4 L751.85,216.5 L752.24,202.4 L752.63,219.9 L753.02,214.0 L753.41,221.0 L753.80,220.4 L754.19,212.4 L754.58,220.1 L754.97,205.9 L755.36,207.6 L755.75,219.1 L756.13,211.1 L756.52,214.9 L756.91,209.1 L757.30,218.8 L757.69,219.7 L758.08,217.6 L758.47,217.3 L758.86,200.5 L759.25,221.1 L759.64,215.7 L760.03,217.9 L760.42,221.2 L760.80,214.5 L761.19,220.7 L761.58,221.5 L761.97,220.8 L762.36,216.0 L762.75,217.2 L763.14,221.0 L763.53,220.8 L763.92,220.1 L764.31,221.7 L764.70,217.3 L765.08,214.9 L765.47,221.2 L765.86,219.8 L766.25,217.7 L766.64,218.9 L767.03,212.9 L767.42,215.9 L767.81,216.5 L768.20,218.4 L768.59,211.7 L768.98,215.8 L769.37,210.6 L769.75,216.1 L770.14,211.8 L770.53,208.9 L770.92,210.0 L771.31,211.3 L771.70,203.6 L772.09,199.5 L772.48,204.1 L772.87,202.9 L773.26,202.8 L773.65,198.1 L774.03,204.5 L774.42,202.0 L774.81,202.8 L775.20,202.5 L775.59,206.2 L775.98,206.4 L776.37,213.0 L776.76,212.2 L777.15,214.5 L777.54,213.4 L777.93,215.8 L778.32,215.7 L778.70,217.0 L779.09,217.1 L779.48,218.7 L779.87,215.4 L780.26,219.2 L780.65,219.8 L781.04,217.6 L781.43,221.6 L781.82,213.6 L782.21,218.9 L782.60,217.5 L782.98,217.7 L783.37,220.1 L783.76,215.7 L784.15,221.0 L784.54,217.7 L784.93,216.0 L785.32,216.3 L785.71,220.5 L786.10,215.6 L786.49,221.2 L786.88,220.0 L787.27,216.5 L787.65,214.5 L788.04,215.2 L788.43,221.2 L788.82,218.9 L789.21,221.2 L789.60,222.2 L789.99,221.7 L790.38,220.8 L790.77,220.8 L791.16,213.0 L791.55,219.7 L791.93,216.8 L792.32,220.4 L792.71,215.2 L793.10,219.8 L793.49,217.3 L793.88,213.2 L794.27,217.2 L794.66,205.9 L795.05,197.0 L795.44,191.1 L795.83,177.0 L796.22,164.5 L796.60,170.9 L796.99,168.2 L797.38,174.8 L797.77,183.0 L798.16,187.3 L798.55,200.5 L798.94,205.4 L799.33,213.1 L799.72,220.2 L800.11,219.2 L800.50,211.7 L800.88,215.3 L801.27,220.8 L801.66,216.6 L802.05,221.5 L802.44,218.7 L802.83,213.4 L803.22,218.6 L803.61,218.9 L804.00,221.6 L804.39,214.2 L804.78,220.3 L805.17,220.9 L805.55,216.6 L805.94,219.0 L806.33,218.8 L806.72,220.9 L807.11,217.0 L807.50,214.3" fill="none" stroke="#e01010" stroke-width="1.1" stroke-linejoin="miter" shape-rendering="crispEdges"/>
<line x1="628.5" y1="64.2" x2="628.5" y2="223" stroke="#000" stroke-width="1.0" />
<line x1="628" y1="222.5" x2="807.5" y2="222.5" stroke="#000" stroke-width="1.0" />
<line x1="626.3" y1="222.5" x2="628.5" y2="222.5" stroke="#000" stroke-width="0.9" />
<text x="623.5" y="224.3" font-size="5" font-family='"Liberation Sans", sans-serif' fill="#444" text-anchor="end" >0</text>
<line x1="626.3" y1="208.11" x2="628.5" y2="208.11" stroke="#000" stroke-width="0.9" />
<text x="623.5" y="209.91" font-size="5" font-family='"Liberation Sans", sans-serif' fill="#444" text-anchor="end" >10</text>
<line x1="626.3" y1="193.72" x2="628.5" y2="193.72" stroke="#000" stroke-width="0.9" />
<text x="623.5" y="195.52" font-size="5" font-family='"Liberation Sans", sans-serif' fill="#444" text-anchor="end" >20</text>
<line x1="626.3" y1="179.33" x2="628.5" y2="179.33" stroke="#000" stroke-width="0.9" />
<text x="623.5" y="181.13" font-size="5" font-family='"Liberation Sans", sans-serif' fill="#444" text-anchor="end" >30</text>
<line x1="626.3" y1="164.94" x2="628.5" y2="164.94" stroke="#000" stroke-width="0.9" />
<text x="623.5" y="166.74" font-size="5" font-family='"Liberation Sans", sans-serif' fill="#444" text-anchor="end" >40</text>
<line x1="626.3" y1="150.55" x2="628.5" y2="150.55" stroke="#000" stroke-width="0.9" />
<text x="623.5" y="152.35" font-size="5" font-family='"Liberation Sans", sans-serif' fill="#444" text-anchor="end" >50</text>
<line x1="626.3" y1="136.15" x2="628.5" y2="136.15" stroke="#000" stroke-width="0.9" />
<text x="623.5" y="137.95" font-size="5" font-family='"Liberation Sans", sans-serif' fill="#444" text-anchor="end" >60</text>
<line x1="626.3" y1="121.76" x2="628.5" y2="121.76" stroke="#000" stroke-width="0.9" />
<text x="623.5" y="123.56" font-size="5" font-family='"Liberation Sans", sans-serif' fill="#444" text-anchor="end" >70</text>
<line x1="626.3" y1="107.37" x2="628.5" y2="107.37" stroke="#000" stroke-width="0.9" />
<text x="623.5" y="109.17" font-size="5" font-family='"Liberation Sans", sans-serif' fill="#444" text-anchor="end" >80</text>
<line x1="626.3" y1="92.98" x2="628.5" y2="92.98" stroke="#000" stroke-width="0.9" />
<text x="623.5" y="94.78" font-size="5" font-family='"Liberation Sans", sans-serif' fill="#444" text-anchor="end" >90</text>
<line x1="626.3" y1="78.59" x2="628.5" y2="78.59" stroke="#000" stroke-width="0.9" />
<text x="623.5" y="80.39" font-size="5" font-family='"Liberation Sans", sans-serif' fill="#444" text-anchor="end" >100</text>
<line x1="626.3" y1="64.2" x2="628.5" y2="64.2" stroke="#000" stroke-width="0.9" />
<text x="623.5" y="66" font-size="5" font-family='"Liberation Sans", sans-serif' fill="#444" text-anchor="end" >110</text>
<line x1="628.5" y1="222.5" x2="628.5" y2="224.5" stroke="#000" stroke-width="0.9" />
<text x="628.5" y="229.9" font-size="5" font-family='"Liberation Sans", sans-serif' fill="#444" text-anchor="middle" >15</text>
<line x1="646.4" y1="222.5" x2="646.4" y2="224.5" stroke="#000" stroke-width="0.9" />
<text x="646.4" y="229.9" font-size="5" font-family='"Liberation Sans", sans-serif' fill="#444" text-anchor="middle" >20</text>
<line x1="664.3" y1="222.5" x2="664.3" y2="224.5" stroke="#000" stroke-width="0.9" />
<text x="664.3" y="229.9" font-size="5" font-family='"Liberation Sans", sans-serif' fill="#444" text-anchor="middle" >25</text>
<line x1="682.2" y1="222.5" x2="682.2" y2="224.5" stroke="#000" stroke-width="0.9" />
<text x="682.2" y="229.9" font-size="5" font-family='"Liberation Sans", sans-serif' fill="#444" text-anchor="middle" >30</text>
<line x1="700.1" y1="222.5" x2="700.1" y2="224.5" stroke="#000" stroke-width="0.9" />
<text x="700.1" y="229.9" font-size="5" font-family='"Liberation Sans", sans-serif' fill="#444" text-anchor="middle" >35</text>
<line x1="718" y1="222.5" x2="718" y2="224.5" stroke="#000" stroke-width="0.9" />
<text x="718" y="229.9" font-size="5" font-family='"Liberation Sans", sans-serif' fill="#444" text-anchor="middle" >40</text>
<line x1="735.9" y1="222.5" x2="735.9" y2="224.5" stroke="#000" stroke-width="0.9" />
<text x="735.9" y="229.9" font-size="5" font-family='"Liberation Sans", sans-serif' fill="#444" text-anchor="middle" >45</text>
<line x1="753.8" y1="222.5" x2="753.8" y2="224.5" stroke="#000" stroke-width="0.9" />
<text x="753.8" y="229.9" font-size="5" font-family='"Liberation Sans", sans-serif' fill="#444" text-anchor="middle" >50</text>
<line x1="771.7" y1="222.5" x2="771.7" y2="224.5" stroke="#000" stroke-width="0.9" />
<text x="771.7" y="229.9" font-size="5" font-family='"Liberation Sans", sans-serif' fill="#444" text-anchor="middle" >55</text>
<line x1="789.6" y1="222.5" x2="789.6" y2="224.5" stroke="#000" stroke-width="0.9" />
<text x="789.6" y="229.9" font-size="5" font-family='"Liberation Sans", sans-serif' fill="#444" text-anchor="middle" >60</text>
<line x1="807.5" y1="222.5" x2="807.5" y2="224.5" stroke="#000" stroke-width="0.9" />
<text x="807.5" y="229.9" font-size="5" font-family='"Liberation Sans", sans-serif' fill="#444" text-anchor="middle" >65</text>
<line x1="632.08" y1="222.5" x2="632.08" y2="223.7" stroke="#000" stroke-width="0.6" />
<line x1="635.66" y1="222.5" x2="635.66" y2="223.7" stroke="#000" stroke-width="0.6" />
<line x1="639.24" y1="222.5" x2="639.24" y2="223.7" stroke="#000" stroke-width="0.6" />
<line x1="642.82" y1="222.5" x2="642.82" y2="223.7" stroke="#000" stroke-width="0.6" />
<line x1="649.98" y1="222.5" x2="649.98" y2="223.7" stroke="#000" stroke-width="0.6" />
<line x1="653.56" y1="222.5" x2="653.56" y2="223.7" stroke="#000" stroke-width="0.6" />
<line x1="657.14" y1="222.5" x2="657.14" y2="223.7" stroke="#000" stroke-width="0.6" />
<line x1="660.72" y1="222.5" x2="660.72" y2="223.7" stroke="#000" stroke-width="0.6" />
<line x1="667.88" y1="222.5" x2="667.88" y2="223.7" stroke="#000" stroke-width="0.6" />
<line x1="671.46" y1="222.5" x2="671.46" y2="223.7" stroke="#000" stroke-width="0.6" />
<line x1="675.04" y1="222.5" x2="675.04" y2="223.7" stroke="#000" stroke-width="0.6" />
<line x1="678.62" y1="222.5" x2="678.62" y2="223.7" stroke="#000" stroke-width="0.6" />
<line x1="685.78" y1="222.5" x2="685.78" y2="223.7" stroke="#000" stroke-width="0.6" />
<line x1="689.36" y1="222.5" x2="689.36" y2="223.7" stroke="#000" stroke-width="0.6" />
<line x1="692.94" y1="222.5" x2="692.94" y2="223.7" stroke="#000" stroke-width="0.6" />
<line x1="696.52" y1="222.5" x2="696.52" y2="223.7" stroke="#000" stroke-width="0.6" />
<line x1="703.68" y1="222.5" x2="703.68" y2="223.7" stroke="#000" stroke-width="0.6" />
<line x1="707.26" y1="222.5" x2="707.26" y2="223.7" stroke="#000" stroke-width="0.6" />
<line x1="710.84" y1="222.5" x2="710.84" y2="223.7" stroke="#000" stroke-width="0.6" />
<line x1="714.42" y1="222.5" x2="714.42" y2="223.7" stroke="#000" stroke-width="0.6" />
<line x1="721.58" y1="222.5" x2="721.58" y2="223.7" stroke="#000" stroke-width="0.6" />
<line x1="725.16" y1="222.5" x2="725.16" y2="223.7" stroke="#000" stroke-width="0.6" />
<line x1="728.74" y1="222.5" x2="728.74" y2="223.7" stroke="#000" stroke-width="0.6" />
<line x1="732.32" y1="222.5" x2="732.32" y2="223.7" stroke="#000" stroke-width="0.6" />
<line x1="739.48" y1="222.5" x2="739.48" y2="223.7" stroke="#000" stroke-width="0.6" />
<line x1="743.06" y1="222.5" x2="743.06" y2="223.7" stroke="#000" stroke-width="0.6" />
<line x1="746.64" y1="222.5" x2="746.64" y2="223.7" stroke="#000" stroke-width="0.6" />
<line x1="750.22" y1="222.5" x2="750.22" y2="223.7" stroke="#000" stroke-width="0.6" />
<line x1="757.38" y1="222.5" x2="757.38" y2="223.7" stroke="#000" stroke-width="0.6" />
<line x1="760.96" y1="222.5" x2="760.96" y2="223.7" stroke="#000" stroke-width="0.6" />
<line x1="764.54" y1="222.5" x2="764.54" y2="223.7" stroke="#000" stroke-width="0.6" />
<line x1="768.12" y1="222.5" x2="768.12" y2="223.7" stroke="#000" stroke-width="0.6" />
<line x1="775.28" y1="222.5" x2="775.28" y2="223.7" stroke="#000" stroke-width="0.6" />
<line x1="778.86" y1="222.5" x2="778.86" y2="223.7" stroke="#000" stroke-width="0.6" />
<line x1="782.44" y1="222.5" x2="782.44" y2="223.7" stroke="#000" stroke-width="0.6" />
<line x1="786.02" y1="222.5" x2="786.02" y2="223.7" stroke="#000" stroke-width="0.6" />
<line x1="793.18" y1="222.5" x2="793.18" y2="223.7" stroke="#000" stroke-width="0.6" />
<line x1="796.76" y1="222.5" x2="796.76" y2="223.7" stroke="#000" stroke-width="0.6" />
<line x1="800.34" y1="222.5" x2="800.34" y2="223.7" stroke="#000" stroke-width="0.6" />
<line x1="803.92" y1="222.5" x2="803.92" y2="223.7" stroke="#000" stroke-width="0.6" />
<rect x="743" y="68.5" width="31.5" height="8.2" stroke="#000" stroke-width="0.9" fill="#fff" />
<text x="758.75" y="74.6" font-size="5.2" font-family='"Liberation Sans", sans-serif' fill="#555" text-anchor="middle" textLength="28.5" lengthAdjust="spacingAndGlyphs" >anneal A</text>
<text x="644.5" y="73.8" font-size="18" font-family='"Liberation Serif", serif' fill="#111" text-anchor="start" >b)</text>
<path d="M830.50,215.1 L830.89,221.8 L831.28,207.1 L831.67,220.5 L832.06,221.8 L832.45,215.6 L832.83,200.2 L833.22,221.0 L833.61,194.6 L834.00,198.2 L834.39,218.9 L834.78,219.2 L835.17,195.9 L835.56,196.7 L835.95,201.1 L836.34,220.6 L836.73,217.2 L837.12,207.7 L837.50,197.6 L837.89,221.2 L838.28,220.0 L838.67,219.8 L839.06,202.4 L839.45,213.0 L839.84,202.7 L840.23,218.6 L840.62,221.0 L841.01,201.1 L841.40,221.8 L841.78,208.5 L842.17,210.4 L842.56,201.1 L842.95,199.9 L843.34,197.3 L843.73,217.2 L844.12,197.8 L844.51,221.4 L844.90,217.3 L845.29,221.2 L845.68,221.5 L846.07,201.1 L846.45,198.9 L846.84,220.0 L847.23,197.2 L847.62,214.2 L848.01,210.2 L848.40,214.4 L848.79,203.1 L849.18,219.3 L849.57,218.1 L849.96,221.3 L850.35,212.7 L850.73,212.7 L851.12,220.8 L851.51,206.7 L851.90,210.0 L852.29,214.4 L852.68,221.8 L853.07,215.4 L853.46,220.4 L853.85,218.3 L854.24,215.0 L854.63,219.2 L855.02,220.6 L855.40,201.6 L855.79,215.1 L856.18,221.3 L856.57,215.1 L856.96,220.4 L857.35,216.6 L857.74,202.2 L858.13,218.2 L858.52,221.4 L858.91,221.5 L859.30,215.1 L859.68,218.0 L860.07,216.8 L860.46,207.7 L860.85,218.5 L861.24,218.4 L861.63,221.8 L862.02,221.7 L862.41,219.9 L862.80,204.8 L863.19,203.7 L863.58,206.4 L863.97,221.7 L864.35,209.4 L864.74,211.5 L865.13,218.1 L865.52,220.9 L865.91,218.4 L866.30,221.7 L866.69,219.0 L867.08,211.3 L867.47,219.6 L867.86,219.5 L868.25,219.3 L868.63,217.3 L869.02,221.8 L869.41,215.8 L869.80,210.4 L870.19,221.7 L870.58,221.8 L870.97,210.9 L871.36,218.3 L871.75,214.1 L872.14,209.7 L872.53,221.1 L872.92,214.4 L873.30,212.5 L873.69,215.3 L874.08,211.6 L874.47,219.6 L874.86,220.4 L875.25,213.3 L875.64,220.8 L876.03,218.6 L876.42,215.6 L876.81,215.5 L877.20,213.4 L877.58,222.1 L877.97,221.7 L878.36,219.1 L878.75,219.0 L879.14,217.0 L879.53,220.0 L879.92,210.7 L880.31,221.8 L880.70,214.7 L881.09,205.9 L881.48,205.4 L881.87,196.8 L882.25,196.0 L882.64,186.9 L883.03,179.9 L883.42,155.5 L883.81,156.0 L884.20,151.6 L884.59,148.0 L884.98,136.2 L885.37,144.3 L885.76,141.0 L886.15,154.6 L886.53,164.1 L886.92,156.0 L887.31,181.3 L887.70,185.6 L888.09,199.0 L888.48,201.9 L888.87,206.9 L889.26,209.1 L889.65,208.4 L890.04,216.6 L890.43,212.3 L890.82,219.0 L891.20,216.5 L891.59,220.3 L891.98,221.8 L892.37,220.6 L892.76,218.4 L893.15,212.4 L893.54,218.0 L893.93,221.0 L894.32,219.7 L894.71,220.7 L895.10,213.0 L895.48,221.5 L895.87,214.6 L896.26,220.1 L896.65,210.3 L897.04,218.6 L897.43,217.0 L897.82,210.8 L898.21,221.3 L898.60,219.6 L898.99,214.6 L899.38,211.0 L899.77,208.3 L900.15,215.5 L900.54,208.6 L900.93,209.9 L901.32,215.0 L901.71,207.9 L902.10,210.0 L902.49,206.3 L902.88,194.4 L903.27,206.4 L903.66,212.0 L904.05,220.4 L904.43,215.2 L904.82,215.1 L905.21,216.5 L905.60,216.3 L905.99,205.8 L906.38,189.0 L906.77,157.5 L907.16,131.2 L907.55,89.8 L907.94,78.7 L908.33,101.0 L908.72,149.7 L909.10,181.7 L909.49,188.9 L909.88,214.6 L910.27,215.1 L910.66,221.5 L911.05,216.6 L911.44,220.4 L911.83,216.1 L912.22,208.1 L912.61,220.2 L913.00,220.5 L913.38,211.9 L913.77,210.5 L914.16,220.6 L914.55,211.0 L914.94,218.7 L915.33,219.6 L915.72,212.5 L916.11,211.1 L916.50,221.0 L916.89,210.5 L917.28,216.5 L917.67,215.8 L918.05,219.5 L918.44,213.0 L918.83,218.8 L919.22,214.9 L919.61,219.8 L920.00,211.9 L920.39,210.0 L920.78,216.3 L921.17,220.1 L921.56,210.0 L921.95,215.8 L922.33,215.3 L922.72,220.8 L923.11,213.8 L923.50,218.0 L923.89,214.8 L924.28,221.1 L924.67,210.4 L925.06,220.0 L925.45,219.9 L925.84,220.5 L926.23,209.8 L926.62,211.8 L927.00,213.9 L927.39,211.6 L927.78,202.5 L928.17,192.9 L928.56,171.6 L928.95,144.9 L929.34,136.4 L929.73,141.5 L930.12,151.6 L930.51,162.2 L930.90,179.0 L931.28,188.9 L931.67,205.6 L932.06,209.6 L932.45,212.8 L932.84,211.9 L933.23,215.4 L933.62,210.4 L934.01,213.1 L934.40,219.3 L934.79,213.0 L935.18,220.9 L935.57,218.2 L935.95,214.7 L936.34,212.2 L936.73,215.4 L937.12,221.0 L937.51,220.2 L937.90,221.0 L938.29,215.5 L938.68,221.0 L939.07,221.1 L939.46,212.6 L939.85,211.3 L940.23,220.6 L940.62,220.1 L941.01,215.6 L941.40,215.4 L941.79,212.4 L942.18,221.0 L942.57,218.1 L942.96,218.1 L943.35,212.5 L943.74,220.1 L944.13,219.1 L944.52,217.0 L944.90,220.1 L945.29,220.4 L945.68,218.8 L946.07,216.8 L946.46,218.4 L946.85,216.3 L947.24,216.6 L947.63,211.2 L948.02,217.7 L948.41,221.0 L948.80,213.6 L949.18,214.2 L949.57,221.0 L949.96,216.3 L950.35,214.2 L950.74,215.2 L951.13,218.4 L951.52,211.7 L951.91,213.7 L952.30,217.4 L952.69,213.8 L953.08,220.3 L953.47,221.6 L953.85,210.3 L954.24,220.5 L954.63,215.7 L955.02,219.8 L955.41,216.4 L955.80,214.7 L956.19,213.2 L956.58,202.0 L956.97,210.6 L957.36,207.6 L957.75,201.7 L958.13,197.9 L958.52,203.4 L958.91,208.3 L959.30,197.9 L959.69,207.1 L960.08,202.8 L960.47,207.8 L960.86,202.0 L961.25,200.8 L961.64,206.4 L962.03,213.1 L962.42,220.0 L962.80,213.6 L963.19,214.3 L963.58,215.4 L963.97,220.0 L964.36,210.0 L964.75,215.2 L965.14,220.6 L965.53,220.7 L965.92,217.9 L966.31,217.5 L966.70,220.8 L967.08,216.4 L967.47,211.1 L967.86,221.3 L968.25,217.2 L968.64,219.1 L969.03,216.6 L969.42,213.4 L969.81,212.5 L970.20,201.6 L970.59,207.3 L970.98,212.7 L971.37,213.6 L971.75,211.7 L972.14,213.2 L972.53,206.7 L972.92,209.3 L973.31,208.1 L973.70,209.1 L974.09,210.7 L974.48,207.7 L974.87,204.8 L975.26,208.8 L975.65,209.2 L976.03,204.9 L976.42,214.9 L976.81,214.6 L977.20,208.5 L977.59,214.2 L977.98,211.5 L978.37,215.2 L978.76,218.4 L979.15,217.5 L979.54,214.7 L979.93,209.8 L980.32,221.7 L980.70,217.3 L981.09,220.0 L981.48,219.5 L981.87,217.6 L982.26,219.3 L982.65,216.1 L983.04,215.6 L983.43,222.0 L983.82,221.3 L984.21,217.3 L984.60,221.2 L984.98,217.5 L985.37,211.3 L985.76,213.3 L986.15,221.0 L986.54,219.9 L986.93,220.6 L987.32,219.9 L987.71,220.8 L988.10,220.0 L988.49,211.9 L988.88,212.6 L989.27,219.2 L989.65,220.9 L990.04,220.6 L990.43,221.0 L990.82,213.5 L991.21,220.7 L991.60,214.6 L991.99,221.1 L992.38,220.8 L992.77,220.8 L993.16,214.2 L993.55,221.2 L993.93,220.9 L994.32,221.2 L994.71,211.8 L995.10,220.9 L995.49,217.4 L995.88,211.8 L996.27,210.9 L996.66,207.2 L997.05,202.7 L997.44,187.9 L997.83,185.1 L998.22,187.1 L998.60,182.0 L998.99,180.2 L999.38,191.5 L999.77,191.7 L1000.16,193.0 L1000.55,194.7 L1000.94,202.9 L1001.33,208.3 L1001.72,218.0 L1002.11,218.0 L1002.50,219.2 L1002.88,219.7 L1003.27,212.6 L1003.66,219.6 L1004.05,221.1 L1004.44,218.3 L1004.83,214.6 L1005.22,213.4 L1005.61,211.0 L1006.00,221.1 L1006.39,213.0 L1006.78,218.7 L1007.17,217.4 L1007.55,220.6 L1007.94,215.5 L1008.33,211.1 L1008.72,220.8 L1009.11,220.6 L1009.50,211.6" fill="none" stroke="#0a1fc8" stroke-width="1.1" stroke-linejoin="miter" shape-rendering="crispEdges"/>
<line x1="830.5" y1="64.2" x2="830.5" y2="223" stroke="#000" stroke-width="1.0" />
<line x1="830" y1="222.5" x2="1009.5" y2="222.5" stroke="#000" stroke-width="1.0" />
<line x1="828.3" y1="222.5" x2="830.5" y2="222.5" stroke="#000" stroke-width="0.9" />
<text x="825.5" y="224.3" font-size="5" font-family='"Liberation Sans", sans-serif' fill="#444" text-anchor="end" >0</text>
<line x1="828.3" y1="208.11" x2="830.5" y2="208.11" stroke="#000" stroke-width="0.9" />
<text x="825.5" y="209.91" font-size="5" font-family='"Liberation Sans", sans-serif' fill="#444" text-anchor="end" >10</text>
<line x1="828.3" y1="193.72" x2="830.5" y2="193.72" stroke="#000" stroke-width="0.9" />
<text x="825.5" y="195.52" font-size="5" font-family='"Liberation Sans", sans-serif' fill="#444" text-anchor="end" >20</text>
<line x1="828.3" y1="179.33" x2="830.5" y2="179.33" stroke="#000" stroke-width="0.9" />
<text x="825.5" y="181.13" font-size="5" font-family='"Liberation Sans", sans-serif' fill="#444" text-anchor="end" >30</text>
<line x1="828.3" y1="164.94" x2="830.5" y2="164.94" stroke="#000" stroke-width="0.9" />
<text x="825.5" y="166.74" font-size="5" font-family='"Liberation Sans", sans-serif' fill="#444" text-anchor="end" >40</text>
<line x1="828.3" y1="150.55" x2="830.5" y2="150.55" stroke="#000" stroke-width="0.9" />
<text x="825.5" y="152.35" font-size="5" font-family='"Liberation Sans", sans-serif' fill="#444" text-anchor="end" >50</text>
<line x1="828.3" y1="136.15" x2="830.5" y2="136.15" stroke="#000" stroke-width="0.9" />
<text x="825.5" y="137.95" font-size="5" font-family='"Liberation Sans", sans-serif' fill="#444" text-anchor="end" >60</text>
<line x1="828.3" y1="121.76" x2="830.5" y2="121.76" stroke="#000" stroke-width="0.9" />
<text x="825.5" y="123.56" font-size="5" font-family='"Liberation Sans", sans-serif' fill="#444" text-anchor="end" >70</text>
<line x1="828.3" y1="107.37" x2="830.5" y2="107.37" stroke="#000" stroke-width="0.9" />
<text x="825.5" y="109.17" font-size="5" font-family='"Liberation Sans", sans-serif' fill="#444" text-anchor="end" >80</text>
<line x1="828.3" y1="92.98" x2="830.5" y2="92.98" stroke="#000" stroke-width="0.9" />
<text x="825.5" y="94.78" font-size="5" font-family='"Liberation Sans", sans-serif' fill="#444" text-anchor="end" >90</text>
<line x1="828.3" y1="78.59" x2="830.5" y2="78.59" stroke="#000" stroke-width="0.9" />
<text x="825.5" y="80.39" font-size="5" font-family='"Liberation Sans", sans-serif' fill="#444" text-anchor="end" >100</text>
<line x1="828.3" y1="64.2" x2="830.5" y2="64.2" stroke="#000" stroke-width="0.9" />
<text x="825.5" y="66" font-size="5" font-family='"Liberation Sans", sans-serif' fill="#444" text-anchor="end" >110</text>
<line x1="829.2" y1="215.3" x2="830.5" y2="215.3" stroke="#000" stroke-width="0.8" />
<line x1="829.2" y1="200.91" x2="830.5" y2="200.91" stroke="#000" stroke-width="0.8" />
<line x1="829.2" y1="186.52" x2="830.5" y2="186.52" stroke="#000" stroke-width="0.8" />
<line x1="829.2" y1="172.13" x2="830.5" y2="172.13" stroke="#000" stroke-width="0.8" />
<line x1="829.2" y1="157.74" x2="830.5" y2="157.74" stroke="#000" stroke-width="0.8" />
<line x1="829.2" y1="143.35" x2="830.5" y2="143.35" stroke="#000" stroke-width="0.8" />
<line x1="829.2" y1="128.96" x2="830.5" y2="128.96" stroke="#000" stroke-width="0.8" />
<line x1="829.2" y1="114.57" x2="830.5" y2="114.57" stroke="#000" stroke-width="0.8" />
<line x1="829.2" y1="100.18" x2="830.5" y2="100.18" stroke="#000" stroke-width="0.8" />
<line x1="829.2" y1="85.79" x2="830.5" y2="85.79" stroke="#000" stroke-width="0.8" />
<line x1="829.2" y1="71.4" x2="830.5" y2="71.4" stroke="#000" stroke-width="0.8" />
<line x1="830.5" y1="222.5" x2="830.5" y2="224.5" stroke="#000" stroke-width="0.9" />
<text x="830.5" y="229.9" font-size="5" font-family='"Liberation Sans", sans-serif' fill="#444" text-anchor="middle" >15</text>
<line x1="848.4" y1="222.5" x2="848.4" y2="224.5" stroke="#000" stroke-width="0.9" />
<text x="848.4" y="229.9" font-size="5" font-family='"Liberation Sans", sans-serif' fill="#444" text-anchor="middle" >20</text>
<line x1="866.3" y1="222.5" x2="866.3" y2="224.5" stroke="#000" stroke-width="0.9" />
<text x="866.3" y="229.9" font-size="5" font-family='"Liberation Sans", sans-serif' fill="#444" text-anchor="middle" >25</text>
<line x1="884.2" y1="222.5" x2="884.2" y2="224.5" stroke="#000" stroke-width="0.9" />
<text x="884.2" y="229.9" font-size="5" font-family='"Liberation Sans", sans-serif' fill="#444" text-anchor="middle" >30</text>
<line x1="902.1" y1="222.5" x2="902.1" y2="224.5" stroke="#000" stroke-width="0.9" />
<text x="902.1" y="229.9" font-size="5" font-family='"Liberation Sans", sans-serif' fill="#444" text-anchor="middle" >35</text>
<line x1="920" y1="222.5" x2="920" y2="224.5" stroke="#000" stroke-width="0.9" />
<text x="920" y="229.9" font-size="5" font-family='"Liberation Sans", sans-serif' fill="#444" text-anchor="middle" >40</text>
<line x1="937.9" y1="222.5" x2="937.9" y2="224.5" stroke="#000" stroke-width="0.9" />
<text x="937.9" y="229.9" font-size="5" font-family='"Liberation Sans", sans-serif' fill="#444" text-anchor="middle" >45</text>
<line x1="955.8" y1="222.5" x2="955.8" y2="224.5" stroke="#000" stroke-width="0.9" />
<text x="955.8" y="229.9" font-size="5" font-family='"Liberation Sans", sans-serif' fill="#444" text-anchor="middle" >50</text>
<line x1="973.7" y1="222.5" x2="973.7" y2="224.5" stroke="#000" stroke-width="0.9" />
<text x="973.7" y="229.9" font-size="5" font-family='"Liberation Sans", sans-serif' fill="#444" text-anchor="middle" >55</text>
<line x1="991.6" y1="222.5" x2="991.6" y2="224.5" stroke="#000" stroke-width="0.9" />
<text x="991.6" y="229.9" font-size="5" font-family='"Liberation Sans", sans-serif' fill="#444" text-anchor="middle" >60</text>
<line x1="1009.5" y1="222.5" x2="1009.5" y2="224.5" stroke="#000" stroke-width="0.9" />
<text x="1009.5" y="229.9" font-size="5" font-family='"Liberation Sans", sans-serif' fill="#444" text-anchor="middle" >65</text>
<line x1="834.08" y1="222.5" x2="834.08" y2="223.7" stroke="#000" stroke-width="0.6" />
<line x1="837.66" y1="222.5" x2="837.66" y2="223.7" stroke="#000" stroke-width="0.6" />
<line x1="841.24" y1="222.5" x2="841.24" y2="223.7" stroke="#000" stroke-width="0.6" />
<line x1="844.82" y1="222.5" x2="844.82" y2="223.7" stroke="#000" stroke-width="0.6" />
<line x1="851.98" y1="222.5" x2="851.98" y2="223.7" stroke="#000" stroke-width="0.6" />
<line x1="855.56" y1="222.5" x2="855.56" y2="223.7" stroke="#000" stroke-width="0.6" />
<line x1="859.14" y1="222.5" x2="859.14" y2="223.7" stroke="#000" stroke-width="0.6" />
<line x1="862.72" y1="222.5" x2="862.72" y2="223.7" stroke="#000" stroke-width="0.6" />
<line x1="869.88" y1="222.5" x2="869.88" y2="223.7" stroke="#000" stroke-width="0.6" />
<line x1="873.46" y1="222.5" x2="873.46" y2="223.7" stroke="#000" stroke-width="0.6" />
<line x1="877.04" y1="222.5" x2="877.04" y2="223.7" stroke="#000" stroke-width="0.6" />
<line x1="880.62" y1="222.5" x2="880.62" y2="223.7" stroke="#000" stroke-width="0.6" />
<line x1="887.78" y1="222.5" x2="887.78" y2="223.7" stroke="#000" stroke-width="0.6" />
<line x1="891.36" y1="222.5" x2="891.36" y2="223.7" stroke="#000" stroke-width="0.6" />
<line x1="894.94" y1="222.5" x2="894.94" y2="223.7" stroke="#000" stroke-width="0.6" />
<line x1="898.52" y1="222.5" x2="898.52" y2="223.7" stroke="#000" stroke-width="0.6" />
<line x1="905.68" y1="222.5" x2="905.68" y2="223.7" stroke="#000" stroke-width="0.6" />
<line x1="909.26" y1="222.5" x2="909.26" y2="223.7" stroke="#000" stroke-width="0.6" />
<line x1="912.84" y1="222.5" x2="912.84" y2="223.7" stroke="#000" stroke-width="0.6" />
<line x1="916.42" y1="222.5" x2="916.42" y2="223.7" stroke="#000" stroke-width="0.6" />
<line x1="923.58" y1="222.5" x2="923.58" y2="223.7" stroke="#000" stroke-width="0.6" />
<line x1="927.16" y1="222.5" x2="927.16" y2="223.7" stroke="#000" stroke-width="0.6" />
<line x1="930.74" y1="222.5" x2="930.74" y2="223.7" stroke="#000" stroke-width="0.6" />
<line x1="934.32" y1="222.5" x2="934.32" y2="223.7" stroke="#000" stroke-width="0.6" />
<line x1="941.48" y1="222.5" x2="941.48" y2="223.7" stroke="#000" stroke-width="0.6" />
<line x1="945.06" y1="222.5" x2="945.06" y2="223.7" stroke="#000" stroke-width="0.6" />
<line x1="948.64" y1="222.5" x2="948.64" y2="223.7" stroke="#000" stroke-width="0.6" />
<line x1="952.22" y1="222.5" x2="952.22" y2="223.7" stroke="#000" stroke-width="0.6" />
<line x1="959.38" y1="222.5" x2="959.38" y2="223.7" stroke="#000" stroke-width="0.6" />
<line x1="962.96" y1="222.5" x2="962.96" y2="223.7" stroke="#000" stroke-width="0.6" />
<line x1="966.54" y1="222.5" x2="966.54" y2="223.7" stroke="#000" stroke-width="0.6" />
<line x1="970.12" y1="222.5" x2="970.12" y2="223.7" stroke="#000" stroke-width="0.6" />
<line x1="977.28" y1="222.5" x2="977.28" y2="223.7" stroke="#000" stroke-width="0.6" />
<line x1="980.86" y1="222.5" x2="980.86" y2="223.7" stroke="#000" stroke-width="0.6" />
<line x1="984.44" y1="222.5" x2="984.44" y2="223.7" stroke="#000" stroke-width="0.6" />
<line x1="988.02" y1="222.5" x2="988.02" y2="223.7" stroke="#000" stroke-width="0.6" />
<line x1="995.18" y1="222.5" x2="995.18" y2="223.7" stroke="#000" stroke-width="0.6" />
<line x1="998.76" y1="222.5" x2="998.76" y2="223.7" stroke="#000" stroke-width="0.6" />
<line x1="1002.34" y1="222.5" x2="1002.34" y2="223.7" stroke="#000" stroke-width="0.6" />
<line x1="1005.92" y1="222.5" x2="1005.92" y2="223.7" stroke="#000" stroke-width="0.6" />
<rect x="942" y="70.4" width="30" height="7" stroke="#000" stroke-width="0.9" fill="#fff" />
<text x="957" y="75.3" font-size="5.2" font-family='"Liberation Sans", sans-serif' fill="#555" text-anchor="middle" textLength="27" lengthAdjust="spacingAndGlyphs" >anneal B</text>
<text x="846.5" y="73.8" font-size="18" font-family='"Liberation Serif", serif' fill="#111" text-anchor="start" >c)</text>
<path d="M1032.50,217.3 L1032.89,221.8 L1033.28,211.6 L1033.67,203.3 L1034.06,218.0 L1034.45,218.4 L1034.83,220.7 L1035.22,212.9 L1035.61,220.8 L1036.00,221.8 L1036.39,201.0 L1036.78,215.1 L1037.17,217.9 L1037.56,221.8 L1037.95,219.0 L1038.34,207.7 L1038.73,211.8 L1039.12,210.0 L1039.50,208.2 L1039.89,206.4 L1040.28,221.8 L1040.67,205.6 L1041.06,203.8 L1041.45,211.6 L1041.84,221.5 L1042.23,221.3 L1042.62,219.7 L1043.01,205.0 L1043.40,221.6 L1043.78,220.4 L1044.17,219.4 L1044.56,204.4 L1044.95,221.3 L1045.34,211.4 L1045.73,208.8 L1046.12,221.0 L1046.51,209.2 L1046.90,212.9 L1047.29,221.0 L1047.68,213.7 L1048.07,218.2 L1048.45,221.8 L1048.84,220.1 L1049.23,214.2 L1049.62,219.8 L1050.01,221.3 L1050.40,208.0 L1050.79,209.1 L1051.18,200.8 L1051.57,221.7 L1051.96,204.3 L1052.35,221.0 L1052.73,216.3 L1053.12,216.1 L1053.51,221.7 L1053.90,220.5 L1054.29,219.7 L1054.68,209.8 L1055.07,204.4 L1055.46,221.6 L1055.85,197.8 L1056.24,221.4 L1056.63,199.6 L1057.02,217.9 L1057.40,221.6 L1057.79,220.1 L1058.18,204.3 L1058.57,207.8 L1058.96,210.0 L1059.35,221.5 L1059.74,221.5 L1060.13,205.8 L1060.52,203.4 L1060.91,217.4 L1061.30,221.4 L1061.68,221.5 L1062.07,220.5 L1062.46,202.0 L1062.85,219.7 L1063.24,219.4 L1063.63,208.2 L1064.02,221.8 L1064.41,205.5 L1064.80,207.3 L1065.19,219.1 L1065.58,218.9 L1065.97,205.1 L1066.35,205.9 L1066.74,204.7 L1067.13,211.1 L1067.52,220.5 L1067.91,207.6 L1068.30,219.5 L1068.69,207.4 L1069.08,221.4 L1069.47,212.5 L1069.86,206.5 L1070.25,219.5 L1070.63,206.5 L1071.02,220.5 L1071.41,221.8 L1071.80,199.7 L1072.19,217.5 L1072.58,203.4 L1072.97,205.7 L1073.36,210.9 L1073.75,215.2 L1074.14,207.9 L1074.53,218.3 L1074.92,220.9 L1075.30,203.3 L1075.69,200.9 L1076.08,211.4 L1076.47,216.3 L1076.86,219.2 L1077.25,208.8 L1077.64,201.9 L1078.03,211.6 L1078.42,220.0 L1078.81,221.1 L1079.20,212.8 L1079.58,201.7 L1079.97,221.2 L1080.36,210.3 L1080.75,204.6 L1081.14,218.7 L1081.53,211.3 L1081.92,218.0 L1082.31,214.2 L1082.70,220.3 L1083.09,216.1 L1083.48,220.4 L1083.87,212.8 L1084.25,213.7 L1084.64,205.2 L1085.03,202.1 L1085.42,195.5 L1085.81,176.0 L1086.20,168.6 L1086.59,164.1 L1086.98,148.8 L1087.37,133.8 L1087.76,130.1 L1088.15,134.6 L1088.53,134.9 L1088.92,139.3 L1089.31,151.0 L1089.70,160.5 L1090.09,164.1 L1090.48,178.8 L1090.87,191.2 L1091.26,195.3 L1091.65,198.9 L1092.04,208.3 L1092.43,214.4 L1092.82,218.8 L1093.20,216.9 L1093.59,221.7 L1093.98,214.5 L1094.37,220.2 L1094.76,218.8 L1095.15,211.0 L1095.54,220.1 L1095.93,219.3 L1096.32,218.1 L1096.71,217.7 L1097.10,215.1 L1097.48,217.6 L1097.87,213.0 L1098.26,216.5 L1098.65,209.6 L1099.04,211.4 L1099.43,218.1 L1099.82,215.1 L1100.21,209.9 L1100.60,206.3 L1100.99,209.3 L1101.38,215.4 L1101.77,206.9 L1102.15,209.1 L1102.54,207.0 L1102.93,214.6 L1103.32,210.4 L1103.71,207.8 L1104.10,218.4 L1104.49,207.7 L1104.88,216.4 L1105.27,212.2 L1105.66,220.2 L1106.05,218.7 L1106.43,216.4 L1106.82,215.1 L1107.21,215.0 L1107.60,213.5 L1107.99,211.0 L1108.38,208.6 L1108.77,195.8 L1109.16,178.1 L1109.55,127.8 L1109.94,108.2 L1110.33,78.6 L1110.72,78.7 L1111.10,91.7 L1111.49,128.2 L1111.88,154.5 L1112.27,177.1 L1112.66,202.9 L1113.05,211.4 L1113.44,211.0 L1113.83,218.4 L1114.22,215.8 L1114.61,214.2 L1115.00,216.3 L1115.38,215.5 L1115.77,212.6 L1116.16,219.9 L1116.55,215.4 L1116.94,219.6 L1117.33,220.9 L1117.72,207.6 L1118.11,215.0 L1118.50,219.7 L1118.89,221.1 L1119.28,212.7 L1119.67,218.6 L1120.05,215.0 L1120.44,220.7 L1120.83,220.9 L1121.22,219.8 L1121.61,218.5 L1122.00,211.5 L1122.39,216.7 L1122.78,216.5 L1123.17,218.8 L1123.56,213.6 L1123.95,220.4 L1124.33,210.4 L1124.72,215.7 L1125.11,220.8 L1125.50,218.3 L1125.89,217.6 L1126.28,220.9 L1126.67,210.5 L1127.06,217.4 L1127.45,217.3 L1127.84,220.5 L1128.23,217.6 L1128.62,216.1 L1129.00,216.9 L1129.39,210.9 L1129.78,202.8 L1130.17,191.2 L1130.56,177.4 L1130.95,168.4 L1131.34,155.0 L1131.73,141.2 L1132.12,144.3 L1132.51,153.1 L1132.90,139.6 L1133.28,169.7 L1133.67,174.1 L1134.06,183.2 L1134.45,197.7 L1134.84,214.2 L1135.23,214.4 L1135.62,220.0 L1136.01,211.6 L1136.40,215.9 L1136.79,215.2 L1137.18,211.7 L1137.57,221.1 L1137.95,213.9 L1138.34,217.4 L1138.73,211.6 L1139.12,220.4 L1139.51,213.2 L1139.90,218.8 L1140.29,215.2 L1140.68,214.0 L1141.07,212.5 L1141.46,221.0 L1141.85,221.0 L1142.23,220.1 L1142.62,220.5 L1143.01,220.0 L1143.40,219.2 L1143.79,220.9 L1144.18,220.8 L1144.57,218.5 L1144.96,215.5 L1145.35,220.8 L1145.74,216.7 L1146.13,221.1 L1146.52,220.7 L1146.90,211.1 L1147.29,216.5 L1147.68,216.3 L1148.07,221.0 L1148.46,212.5 L1148.85,218.7 L1149.24,218.6 L1149.63,212.3 L1150.02,220.9 L1150.41,216.3 L1150.80,210.1 L1151.18,220.9 L1151.57,217.6 L1151.96,216.2 L1152.35,220.3 L1152.74,221.1 L1153.13,213.5 L1153.52,213.4 L1153.91,219.6 L1154.30,221.2 L1154.69,211.3 L1155.08,215.1 L1155.47,212.1 L1155.85,218.2 L1156.24,219.0 L1156.63,218.3 L1157.02,220.5 L1157.41,218.0 L1157.80,218.1 L1158.19,216.1 L1158.58,216.5 L1158.97,212.5 L1159.36,207.6 L1159.75,203.8 L1160.13,202.2 L1160.52,195.4 L1160.91,202.5 L1161.30,200.7 L1161.69,191.5 L1162.08,201.6 L1162.47,197.6 L1162.86,201.5 L1163.25,191.6 L1163.64,211.4 L1164.03,215.7 L1164.42,217.6 L1164.80,210.4 L1165.19,221.3 L1165.58,220.9 L1165.97,220.0 L1166.36,220.4 L1166.75,219.6 L1167.14,211.7 L1167.53,221.9 L1167.92,220.5 L1168.31,210.6 L1168.70,220.7 L1169.08,215.3 L1169.47,213.8 L1169.86,217.4 L1170.25,213.1 L1170.64,214.8 L1171.03,214.4 L1171.42,214.7 L1171.81,211.5 L1172.20,211.5 L1172.59,215.6 L1172.98,213.5 L1173.37,214.4 L1173.75,213.5 L1174.14,213.7 L1174.53,205.3 L1174.92,202.2 L1175.31,206.4 L1175.70,203.3 L1176.09,207.0 L1176.48,204.6 L1176.87,200.2 L1177.26,197.5 L1177.65,199.3 L1178.03,202.7 L1178.42,204.9 L1178.81,208.0 L1179.20,209.8 L1179.59,203.2 L1179.98,205.6 L1180.37,211.5 L1180.76,209.2 L1181.15,210.8 L1181.54,211.4 L1181.93,211.8 L1182.32,212.6 L1182.70,215.9 L1183.09,217.5 L1183.48,217.6 L1183.87,214.9 L1184.26,215.9 L1184.65,213.4 L1185.04,219.1 L1185.43,215.3 L1185.82,212.2 L1186.21,220.2 L1186.60,213.1 L1186.98,220.2 L1187.37,213.9 L1187.76,213.8 L1188.15,217.0 L1188.54,220.9 L1188.93,221.0 L1189.32,221.1 L1189.71,220.9 L1190.10,212.8 L1190.49,211.4 L1190.88,220.5 L1191.27,215.7 L1191.65,212.5 L1192.04,213.7 L1192.43,218.9 L1192.82,220.7 L1193.21,215.5 L1193.60,216.2 L1193.99,220.7 L1194.38,218.4 L1194.77,215.8 L1195.16,220.0 L1195.55,216.0 L1195.93,219.4 L1196.32,219.7 L1196.71,220.0 L1197.10,212.4 L1197.49,216.1 L1197.88,214.6 L1198.27,212.0 L1198.66,206.8 L1199.05,205.8 L1199.44,203.1 L1199.83,192.1 L1200.22,184.3 L1200.60,188.4 L1200.99,184.8 L1201.38,181.5 L1201.77,186.9 L1202.16,191.1 L1202.55,186.5 L1202.94,203.1 L1203.33,208.0 L1203.72,208.6 L1204.11,212.2 L1204.50,212.5 L1204.88,220.6 L1205.27,221.5 L1205.66,219.7 L1206.05,220.7 L1206.44,220.8 L1206.83,220.3 L1207.22,220.8 L1207.61,220.3 L1208.00,215.0 L1208.39,221.2 L1208.78,212.4 L1209.17,221.1 L1209.55,219.2 L1209.94,214.1 L1210.33,219.4 L1210.72,216.7 L1211.11,217.7 L1211.50,211.5" fill="none" stroke="#e619e6" stroke-width="1.1" stroke-linejoin="miter" shape-rendering="crispEdges"/>
<line x1="1032.5" y1="64.2" x2="1032.5" y2="223" stroke="#000" stroke-width="1.0" />
<line x1="1032" y1="222.5" x2="1211.5" y2="222.5" stroke="#000" stroke-width="1.0" />
<line x1="1030.3" y1="222.5" x2="1032.5" y2="222.5" stroke="#000" stroke-width="0.9" />
<text x="1027.5" y="224.3" font-size="5" font-family='"Liberation Sans", sans-serif' fill="#444" text-anchor="end" >0</text>
<line x1="1030.3" y1="208.11" x2="1032.5" y2="208.11" stroke="#000" stroke-width="0.9" />
<text x="1027.5" y="209.91" font-size="5" font-family='"Liberation Sans", sans-serif' fill="#444" text-anchor="end" >10</text>
<line x1="1030.3" y1="193.72" x2="1032.5" y2="193.72" stroke="#000" stroke-width="0.9" />
<text x="1027.5" y="195.52" font-size="5" font-family='"Liberation Sans", sans-serif' fill="#444" text-anchor="end" >20</text>
<line x1="1030.3" y1="179.33" x2="1032.5" y2="179.33" stroke="#000" stroke-width="0.9" />
<text x="1027.5" y="181.13" font-size="5" font-family='"Liberation Sans", sans-serif' fill="#444" text-anchor="end" >30</text>
<line x1="1030.3" y1="164.94" x2="1032.5" y2="164.94" stroke="#000" stroke-width="0.9" />
<text x="1027.5" y="166.74" font-size="5" font-family='"Liberation Sans", sans-serif' fill="#444" text-anchor="end" >40</text>
<line x1="1030.3" y1="150.55" x2="1032.5" y2="150.55" stroke="#000" stroke-width="0.9" />
<text x="1027.5" y="152.35" font-size="5" font-family='"Liberation Sans", sans-serif' fill="#444" text-anchor="end" >50</text>
<line x1="1030.3" y1="136.15" x2="1032.5" y2="136.15" stroke="#000" stroke-width="0.9" />
<text x="1027.5" y="137.95" font-size="5" font-family='"Liberation Sans", sans-serif' fill="#444" text-anchor="end" >60</text>
<line x1="1030.3" y1="121.76" x2="1032.5" y2="121.76" stroke="#000" stroke-width="0.9" />
<text x="1027.5" y="123.56" font-size="5" font-family='"Liberation Sans", sans-serif' fill="#444" text-anchor="end" >70</text>
<line x1="1030.3" y1="107.37" x2="1032.5" y2="107.37" stroke="#000" stroke-width="0.9" />
<text x="1027.5" y="109.17" font-size="5" font-family='"Liberation Sans", sans-serif' fill="#444" text-anchor="end" >80</text>
<line x1="1030.3" y1="92.98" x2="1032.5" y2="92.98" stroke="#000" stroke-width="0.9" />
<text x="1027.5" y="94.78" font-size="5" font-family='"Liberation Sans", sans-serif' fill="#444" text-anchor="end" >90</text>
<line x1="1030.3" y1="78.59" x2="1032.5" y2="78.59" stroke="#000" stroke-width="0.9" />
<text x="1027.5" y="80.39" font-size="5" font-family='"Liberation Sans", sans-serif' fill="#444" text-anchor="end" >100</text>
<line x1="1030.3" y1="64.2" x2="1032.5" y2="64.2" stroke="#000" stroke-width="0.9" />
<text x="1027.5" y="66" font-size="5" font-family='"Liberation Sans", sans-serif' fill="#444" text-anchor="end" >110</text>
<line x1="1031.2" y1="215.3" x2="1032.5" y2="215.3" stroke="#000" stroke-width="0.8" />
<line x1="1031.2" y1="200.91" x2="1032.5" y2="200.91" stroke="#000" stroke-width="0.8" />
<line x1="1031.2" y1="186.52" x2="1032.5" y2="186.52" stroke="#000" stroke-width="0.8" />
<line x1="1031.2" y1="172.13" x2="1032.5" y2="172.13" stroke="#000" stroke-width="0.8" />
<line x1="1031.2" y1="157.74" x2="1032.5" y2="157.74" stroke="#000" stroke-width="0.8" />
<line x1="1031.2" y1="143.35" x2="1032.5" y2="143.35" stroke="#000" stroke-width="0.8" />
<line x1="1031.2" y1="128.96" x2="1032.5" y2="128.96" stroke="#000" stroke-width="0.8" />
<line x1="1031.2" y1="114.57" x2="1032.5" y2="114.57" stroke="#000" stroke-width="0.8" />
<line x1="1031.2" y1="100.18" x2="1032.5" y2="100.18" stroke="#000" stroke-width="0.8" />
<line x1="1031.2" y1="85.79" x2="1032.5" y2="85.79" stroke="#000" stroke-width="0.8" />
<line x1="1031.2" y1="71.4" x2="1032.5" y2="71.4" stroke="#000" stroke-width="0.8" />
<line x1="1032.5" y1="222.5" x2="1032.5" y2="224.5" stroke="#000" stroke-width="0.9" />
<text x="1032.5" y="229.9" font-size="5" font-family='"Liberation Sans", sans-serif' fill="#444" text-anchor="middle" >15</text>
<line x1="1050.4" y1="222.5" x2="1050.4" y2="224.5" stroke="#000" stroke-width="0.9" />
<text x="1050.4" y="229.9" font-size="5" font-family='"Liberation Sans", sans-serif' fill="#444" text-anchor="middle" >20</text>
<line x1="1068.3" y1="222.5" x2="1068.3" y2="224.5" stroke="#000" stroke-width="0.9" />
<text x="1068.3" y="229.9" font-size="5" font-family='"Liberation Sans", sans-serif' fill="#444" text-anchor="middle" >25</text>
<line x1="1086.2" y1="222.5" x2="1086.2" y2="224.5" stroke="#000" stroke-width="0.9" />
<text x="1086.2" y="229.9" font-size="5" font-family='"Liberation Sans", sans-serif' fill="#444" text-anchor="middle" >30</text>
<line x1="1104.1" y1="222.5" x2="1104.1" y2="224.5" stroke="#000" stroke-width="0.9" />
<text x="1104.1" y="229.9" font-size="5" font-family='"Liberation Sans", sans-serif' fill="#444" text-anchor="middle" >35</text>
<line x1="1122" y1="222.5" x2="1122" y2="224.5" stroke="#000" stroke-width="0.9" />
<text x="1122" y="229.9" font-size="5" font-family='"Liberation Sans", sans-serif' fill="#444" text-anchor="middle" >40</text>
<line x1="1139.9" y1="222.5" x2="1139.9" y2="224.5" stroke="#000" stroke-width="0.9" />
<text x="1139.9" y="229.9" font-size="5" font-family='"Liberation Sans", sans-serif' fill="#444" text-anchor="middle" >45</text>
<line x1="1157.8" y1="222.5" x2="1157.8" y2="224.5" stroke="#000" stroke-width="0.9" />
<text x="1157.8" y="229.9" font-size="5" font-family='"Liberation Sans", sans-serif' fill="#444" text-anchor="middle" >50</text>
<line x1="1175.7" y1="222.5" x2="1175.7" y2="224.5" stroke="#000" stroke-width="0.9" />
<text x="1175.7" y="229.9" font-size="5" font-family='"Liberation Sans", sans-serif' fill="#444" text-anchor="middle" >55</text>
<line x1="1193.6" y1="222.5" x2="1193.6" y2="224.5" stroke="#000" stroke-width="0.9" />
<text x="1193.6" y="229.9" font-size="5" font-family='"Liberation Sans", sans-serif' fill="#444" text-anchor="middle" >60</text>
<line x1="1211.5" y1="222.5" x2="1211.5" y2="224.5" stroke="#000" stroke-width="0.9" />
<text x="1211.5" y="229.9" font-size="5" font-family='"Liberation Sans", sans-serif' fill="#444" text-anchor="middle" >65</text>
<line x1="1036.08" y1="222.5" x2="1036.08" y2="223.7" stroke="#000" stroke-width="0.6" />
<line x1="1039.66" y1="222.5" x2="1039.66" y2="223.7" stroke="#000" stroke-width="0.6" />
<line x1="1043.24" y1="222.5" x2="1043.24" y2="223.7" stroke="#000" stroke-width="0.6" />
<line x1="1046.82" y1="222.5" x2="1046.82" y2="223.7" stroke="#000" stroke-width="0.6" />
<line x1="1053.98" y1="222.5" x2="1053.98" y2="223.7" stroke="#000" stroke-width="0.6" />
<line x1="1057.56" y1="222.5" x2="1057.56" y2="223.7" stroke="#000" stroke-width="0.6" />
<line x1="1061.14" y1="222.5" x2="1061.14" y2="223.7" stroke="#000" stroke-width="0.6" />
<line x1="1064.72" y1="222.5" x2="1064.72" y2="223.7" stroke="#000" stroke-width="0.6" />
<line x1="1071.88" y1="222.5" x2="1071.88" y2="223.7" stroke="#000" stroke-width="0.6" />
<line x1="1075.46" y1="222.5" x2="1075.46" y2="223.7" stroke="#000" stroke-width="0.6" />
<line x1="1079.04" y1="222.5" x2="1079.04" y2="223.7" stroke="#000" stroke-width="0.6" />
<line x1="1082.62" y1="222.5" x2="1082.62" y2="223.7" stroke="#000" stroke-width="0.6" />
<line x1="1089.78" y1="222.5" x2="1089.78" y2="223.7" stroke="#000" stroke-width="0.6" />
<line x1="1093.36" y1="222.5" x2="1093.36" y2="223.7" stroke="#000" stroke-width="0.6" />
<line x1="1096.94" y1="222.5" x2="1096.94" y2="223.7" stroke="#000" stroke-width="0.6" />
<line x1="1100.52" y1="222.5" x2="1100.52" y2="223.7" stroke="#000" stroke-width="0.6" />
<line x1="1107.68" y1="222.5" x2="1107.68" y2="223.7" stroke="#000" stroke-width="0.6" />
<line x1="1111.26" y1="222.5" x2="1111.26" y2="223.7" stroke="#000" stroke-width="0.6" />
<line x1="1114.84" y1="222.5" x2="1114.84" y2="223.7" stroke="#000" stroke-width="0.6" />
<line x1="1118.42" y1="222.5" x2="1118.42" y2="223.7" stroke="#000" stroke-width="0.6" />
<line x1="1125.58" y1="222.5" x2="1125.58" y2="223.7" stroke="#000" stroke-width="0.6" />
<line x1="1129.16" y1="222.5" x2="1129.16" y2="223.7" stroke="#000" stroke-width="0.6" />
<line x1="1132.74" y1="222.5" x2="1132.74" y2="223.7" stroke="#000" stroke-width="0.6" />
<line x1="1136.32" y1="222.5" x2="1136.32" y2="223.7" stroke="#000" stroke-width="0.6" />
<line x1="1143.48" y1="222.5" x2="1143.48" y2="223.7" stroke="#000" stroke-width="0.6" />
<line x1="1147.06" y1="222.5" x2="1147.06" y2="223.7" stroke="#000" stroke-width="0.6" />
<line x1="1150.64" y1="222.5" x2="1150.64" y2="223.7" stroke="#000" stroke-width="0.6" />
<line x1="1154.22" y1="222.5" x2="1154.22" y2="223.7" stroke="#000" stroke-width="0.6" />
<line x1="1161.38" y1="222.5" x2="1161.38" y2="223.7" stroke="#000" stroke-width="0.6" />
<line x1="1164.96" y1="222.5" x2="1164.96" y2="223.7" stroke="#000" stroke-width="0.6" />
<line x1="1168.54" y1="222.5" x2="1168.54" y2="223.7" stroke="#000" stroke-width="0.6" />
<line x1="1172.12" y1="222.5" x2="1172.12" y2="223.7" stroke="#000" stroke-width="0.6" />
<line x1="1179.28" y1="222.5" x2="1179.28" y2="223.7" stroke="#000" stroke-width="0.6" />
<line x1="1182.86" y1="222.5" x2="1182.86" y2="223.7" stroke="#000" stroke-width="0.6" />
<line x1="1186.44" y1="222.5" x2="1186.44" y2="223.7" stroke="#000" stroke-width="0.6" />
<line x1="1190.02" y1="222.5" x2="1190.02" y2="223.7" stroke="#000" stroke-width="0.6" />
<line x1="1197.18" y1="222.5" x2="1197.18" y2="223.7" stroke="#000" stroke-width="0.6" />
<line x1="1200.76" y1="222.5" x2="1200.76" y2="223.7" stroke="#000" stroke-width="0.6" />
<line x1="1204.34" y1="222.5" x2="1204.34" y2="223.7" stroke="#000" stroke-width="0.6" />
<line x1="1207.92" y1="222.5" x2="1207.92" y2="223.7" stroke="#000" stroke-width="0.6" />
<rect x="1143.8" y="69.9" width="30.3" height="7.5" stroke="#000" stroke-width="0.9" fill="#fff" />
<text x="1158.95" y="75.3" font-size="5.2" font-family='"Liberation Sans", sans-serif' fill="#555" text-anchor="middle" textLength="27.3" lengthAdjust="spacingAndGlyphs" >anneal C</text>
<text x="1048.5" y="73.8" font-size="18" font-family='"Liberation Serif", serif' fill="#111" text-anchor="start" >d)</text>
<text x="0" y="0" font-size="10.3" font-family='"Liberation Sans", sans-serif' fill="#111" text-anchor="middle" textLength="114.5" lengthAdjust="spacingAndGlyphs" transform="translate(400.3,138.2) rotate(-90)">Intensity (arbitrary units)</text>
<text x="789.9" y="246.6" font-size="10.3" font-family='"Liberation Sans", sans-serif' fill="#111" text-anchor="start" textLength="65" lengthAdjust="spacingAndGlyphs" >2-theta (deg)</text>
<text x="552.4" y="118" font-size="6.8" font-family='"Liberation Sans", sans-serif' fill="#666" text-anchor="start" textLength="10.6" lengthAdjust="spacingAndGlyphs" >TiN</text>
<line x1="550.5" y1="110.5" x2="507" y2="79.5" stroke="#000" stroke-width="0.9" />
<path d="M507,79.5 L509.33,83.12 L511.19,80.52 Z" fill="#000"/>
<line x1="550" y1="122" x2="530" y2="154" stroke="#000" stroke-width="0.9" />
<path d="M530,154 L533.48,151.46 L530.76,149.76 Z" fill="#000"/>
<line x1="563" y1="123" x2="594" y2="175" stroke="#000" stroke-width="0.9" />
<path d="M594,175 L593.33,170.74 L590.58,172.38 Z" fill="#000"/>
<text x="868.7" y="112.8" font-size="6.4" font-family='"Liberation Sans", sans-serif' fill="#444" textLength="31.3" lengthAdjust="spacingAndGlyphs">ZrO<tspan font-size="4" dy="1.5">2</tspan><tspan dy="-1.5"> (111)</tspan></text>
<text x="841.7" y="172.7" font-size="6.4" font-family='"Liberation Sans", sans-serif' fill="#444" textLength="31.6" lengthAdjust="spacingAndGlyphs">ZrO<tspan font-size="4" dy="1.5">2</tspan><tspan dy="-1.5"> (200)</tspan></text>
<text x="942" y="170.7" font-size="6.4" font-family='"Liberation Sans", sans-serif' fill="#444" textLength="32" lengthAdjust="spacingAndGlyphs">ZrO<tspan font-size="4" dy="1.5">2</tspan><tspan dy="-1.5"> (220)</tspan></text>
<line x1="885.5" y1="117.5" x2="885.5" y2="132" stroke="#000" stroke-width="0.9" />
<path d="M885.5,132 L887,128.5 L884,128.5 Z" fill="#000"/>
<line x1="883.7" y1="127" x2="887.3" y2="127" stroke="#000" stroke-width="0.8" />
<line x1="875" y1="172" x2="900.8" y2="191.2" stroke="#000" stroke-width="0.9" />
<path d="M900.8,191.2 L898.83,187.99 L897.16,190.23 Z" fill="#000"/>
<line x1="957.7" y1="174.5" x2="957.7" y2="189.5" stroke="#000" stroke-width="0.9" />
<path d="M957.7,189.5 L959.2,186 L956.2,186 Z" fill="#000"/>
<rect x="173.5" y="363.5" width="1011" height="272" stroke="#000" stroke-width="1.4" fill="none" />
<rect x="241" y="393.4" width="253.6" height="194.2" stroke="#333" stroke-width="1.4" fill="none" />
<line x1="237.5" y1="411.35" x2="241" y2="411.35" stroke="#333" stroke-width="1" />
<text x="234.4" y="414.45" font-size="8.8" font-family='"Liberation Sans", sans-serif' fill="#333" text-anchor="end" textLength="18.5" lengthAdjust="spacingAndGlyphs" >1E-3</text>
<line x1="237.5" y1="470.1" x2="241" y2="470.1" stroke="#333" stroke-width="1" />
<text x="234.4" y="473.2" font-size="8.8" font-family='"Liberation Sans", sans-serif' fill="#333" text-anchor="end" textLength="18.5" lengthAdjust="spacingAndGlyphs" >1E-4</text>
<line x1="237.5" y1="528.85" x2="241" y2="528.85" stroke="#333" stroke-width="1" />
<text x="234.4" y="531.95" font-size="8.8" font-family='"Liberation Sans", sans-serif' fill="#333" text-anchor="end" textLength="18.5" lengthAdjust="spacingAndGlyphs" >1E-5</text>
<line x1="237.5" y1="587.6" x2="241" y2="587.6" stroke="#333" stroke-width="1" />
<text x="234.4" y="590.7" font-size="8.8" font-family='"Liberation Sans", sans-serif' fill="#333" text-anchor="end" textLength="18.5" lengthAdjust="spacingAndGlyphs" >1E-6</text>
<line x1="241" y1="569.91" x2="242.4" y2="569.91" stroke="#333" stroke-width="0.8" />
<line x1="493.2" y1="569.91" x2="494.6" y2="569.91" stroke="#333" stroke-width="0.8" />
<line x1="241" y1="559.57" x2="242.4" y2="559.57" stroke="#333" stroke-width="0.8" />
<line x1="493.2" y1="559.57" x2="494.6" y2="559.57" stroke="#333" stroke-width="0.8" />
<line x1="241" y1="552.23" x2="242.4" y2="552.23" stroke="#333" stroke-width="0.8" />
<line x1="493.2" y1="552.23" x2="494.6" y2="552.23" stroke="#333" stroke-width="0.8" />
<line x1="241" y1="546.54" x2="243.2" y2="546.54" stroke="#333" stroke-width="0.8" />
<line x1="492.4" y1="546.54" x2="494.6" y2="546.54" stroke="#333" stroke-width="0.8" />
<line x1="241" y1="541.88" x2="242.4" y2="541.88" stroke="#333" stroke-width="0.8" />
<line x1="493.2" y1="541.88" x2="494.6" y2="541.88" stroke="#333" stroke-width="0.8" />
<line x1="241" y1="537.95" x2="242.4" y2="537.95" stroke="#333" stroke-width="0.8" />
<line x1="493.2" y1="537.95" x2="494.6" y2="537.95" stroke="#333" stroke-width="0.8" />
<line x1="241" y1="534.54" x2="242.4" y2="534.54" stroke="#333" stroke-width="0.8" />
<line x1="493.2" y1="534.54" x2="494.6" y2="534.54" stroke="#333" stroke-width="0.8" />
<line x1="241" y1="531.54" x2="242.4" y2="531.54" stroke="#333" stroke-width="0.8" />
<line x1="493.2" y1="531.54" x2="494.6" y2="531.54" stroke="#333" stroke-width="0.8" />
<line x1="241" y1="511.16" x2="242.4" y2="511.16" stroke="#333" stroke-width="0.8" />
<line x1="493.2" y1="511.16" x2="494.6" y2="511.16" stroke="#333" stroke-width="0.8" />
<line x1="241" y1="500.82" x2="242.4" y2="500.82" stroke="#333" stroke-width="0.8" />
<line x1="493.2" y1="500.82" x2="494.6" y2="500.82" stroke="#333" stroke-width="0.8" />
<line x1="241" y1="493.48" x2="242.4" y2="493.48" stroke="#333" stroke-width="0.8" />
<line x1="493.2" y1="493.48" x2="494.6" y2="493.48" stroke="#333" stroke-width="0.8" />
<line x1="241" y1="487.79" x2="243.2" y2="487.79" stroke="#333" stroke-width="0.8" />
<line x1="492.4" y1="487.79" x2="494.6" y2="487.79" stroke="#333" stroke-width="0.8" />
<line x1="241" y1="483.13" x2="242.4" y2="483.13" stroke="#333" stroke-width="0.8" />
<line x1="493.2" y1="483.13" x2="494.6" y2="483.13" stroke="#333" stroke-width="0.8" />
<line x1="241" y1="479.2" x2="242.4" y2="479.2" stroke="#333" stroke-width="0.8" />
<line x1="493.2" y1="479.2" x2="494.6" y2="479.2" stroke="#333" stroke-width="0.8" />
<line x1="241" y1="475.79" x2="242.4" y2="475.79" stroke="#333" stroke-width="0.8" />
<line x1="493.2" y1="475.79" x2="494.6" y2="475.79" stroke="#333" stroke-width="0.8" />
<line x1="241" y1="472.79" x2="242.4" y2="472.79" stroke="#333" stroke-width="0.8" />
<line x1="493.2" y1="472.79" x2="494.6" y2="472.79" stroke="#333" stroke-width="0.8" />
<line x1="241" y1="452.41" x2="242.4" y2="452.41" stroke="#333" stroke-width="0.8" />
<line x1="493.2" y1="452.41" x2="494.6" y2="452.41" stroke="#333" stroke-width="0.8" />
<line x1="241" y1="442.07" x2="242.4" y2="442.07" stroke="#333" stroke-width="0.8" />
<line x1="493.2" y1="442.07" x2="494.6" y2="442.07" stroke="#333" stroke-width="0.8" />
<line x1="241" y1="434.73" x2="242.4" y2="434.73" stroke="#333" stroke-width="0.8" />
<line x1="493.2" y1="434.73" x2="494.6" y2="434.73" stroke="#333" stroke-width="0.8" />
<line x1="241" y1="429.04" x2="243.2" y2="429.04" stroke="#333" stroke-width="0.8" />
<line x1="492.4" y1="429.04" x2="494.6" y2="429.04" stroke="#333" stroke-width="0.8" />
<line x1="241" y1="424.38" x2="242.4" y2="424.38" stroke="#333" stroke-width="0.8" />
<line x1="493.2" y1="424.38" x2="494.6" y2="424.38" stroke="#333" stroke-width="0.8" />
<line x1="241" y1="420.45" x2="242.4" y2="420.45" stroke="#333" stroke-width="0.8" />
<line x1="493.2" y1="420.45" x2="494.6" y2="420.45" stroke="#333" stroke-width="0.8" />
<line x1="241" y1="417.04" x2="242.4" y2="417.04" stroke="#333" stroke-width="0.8" />
<line x1="493.2" y1="417.04" x2="494.6" y2="417.04" stroke="#333" stroke-width="0.8" />
<line x1="241" y1="414.04" x2="242.4" y2="414.04" stroke="#333" stroke-width="0.8" />
<line x1="493.2" y1="414.04" x2="494.6" y2="414.04" stroke="#333" stroke-width="0.8" />
<line x1="241" y1="393.66" x2="242.4" y2="393.66" stroke="#333" stroke-width="0.8" />
<line x1="493.2" y1="393.66" x2="494.6" y2="393.66" stroke="#333" stroke-width="0.8" />
<line x1="241" y1="587.6" x2="241" y2="590.6" stroke="#333" stroke-width="1" />
<text x="241" y="601" font-size="9" font-family='"Liberation Sans", sans-serif' fill="#333" text-anchor="middle" >40</text>
<line x1="304.4" y1="587.6" x2="304.4" y2="590.6" stroke="#333" stroke-width="1" />
<text x="304.4" y="601" font-size="9" font-family='"Liberation Sans", sans-serif' fill="#333" text-anchor="middle" >45</text>
<line x1="367.8" y1="587.6" x2="367.8" y2="590.6" stroke="#333" stroke-width="1" />
<text x="367.8" y="601" font-size="9" font-family='"Liberation Sans", sans-serif' fill="#333" text-anchor="middle" >50</text>
<line x1="431.2" y1="587.6" x2="431.2" y2="590.6" stroke="#333" stroke-width="1" />
<text x="431.2" y="601" font-size="9" font-family='"Liberation Sans", sans-serif' fill="#333" text-anchor="middle" >55</text>
<line x1="494.6" y1="587.6" x2="494.6" y2="590.6" stroke="#333" stroke-width="1" />
<text x="494.6" y="601" font-size="9" font-family='"Liberation Sans", sans-serif' fill="#333" text-anchor="middle" >60</text>
<line x1="253.68" y1="587.6" x2="253.68" y2="589.2" stroke="#333" stroke-width="0.8" />
<line x1="266.36" y1="587.6" x2="266.36" y2="589.2" stroke="#333" stroke-width="0.8" />
<line x1="279.04" y1="587.6" x2="279.04" y2="589.2" stroke="#333" stroke-width="0.8" />
<line x1="291.72" y1="587.6" x2="291.72" y2="589.2" stroke="#333" stroke-width="0.8" />
<line x1="317.08" y1="587.6" x2="317.08" y2="589.2" stroke="#333" stroke-width="0.8" />
<line x1="329.76" y1="587.6" x2="329.76" y2="589.2" stroke="#333" stroke-width="0.8" />
<line x1="342.44" y1="587.6" x2="342.44" y2="589.2" stroke="#333" stroke-width="0.8" />
<line x1="355.12" y1="587.6" x2="355.12" y2="589.2" stroke="#333" stroke-width="0.8" />
<line x1="380.48" y1="587.6" x2="380.48" y2="589.2" stroke="#333" stroke-width="0.8" />
<line x1="393.16" y1="587.6" x2="393.16" y2="589.2" stroke="#333" stroke-width="0.8" />
<line x1="405.84" y1="587.6" x2="405.84" y2="589.2" stroke="#333" stroke-width="0.8" />
<line x1="418.52" y1="587.6" x2="418.52" y2="589.2" stroke="#333" stroke-width="0.8" />
<line x1="443.88" y1="587.6" x2="443.88" y2="589.2" stroke="#333" stroke-width="0.8" />
<line x1="456.56" y1="587.6" x2="456.56" y2="589.2" stroke="#333" stroke-width="0.8" />
<line x1="469.24" y1="587.6" x2="469.24" y2="589.2" stroke="#333" stroke-width="0.8" />
<line x1="481.92" y1="587.6" x2="481.92" y2="589.2" stroke="#333" stroke-width="0.8" />
<text x="253" y="425.3" font-size="19" font-family='"Liberation Serif", serif' fill="#111" text-anchor="start" >a)</text>
<text x="0" y="0" font-size="10" font-family='"Liberation Sans", sans-serif' fill="#222" transform="translate(284.9,446.8) rotate(-90)">unannealed</text>
<text x="0" y="0" font-size="10" font-family='"Liberation Sans", sans-serif' fill="#222" transform="translate(308.8,434.7) rotate(-90)">anneal A</text>
<text x="0" y="0" font-size="10" font-family='"Liberation Sans", sans-serif' fill="#222" transform="translate(387.4,435) rotate(-90)">anneal B</text>
<text x="0" y="0" font-size="10" font-family='"Liberation Sans", sans-serif' fill="#222" transform="translate(430.7,435.6) rotate(-90)">anneal C</text>
<text x="0" y="0" font-size="10" font-family='"Liberation Sans", sans-serif' fill="#222" transform="translate(445.6,435.3) rotate(-90)">anneal D</text>
<rect x="279.5" y="525.5" width="6.6" height="6.6" stroke="none" stroke-width="0" fill="#000" />
<rect x="302.7" y="534.4" width="6.6" height="6.6" stroke="none" stroke-width="0" fill="#000" />
<rect x="383.3" y="543.3" width="6.6" height="6.6" stroke="none" stroke-width="0" fill="#000" />
<rect x="422.5" y="536.7" width="6.6" height="6.6" stroke="none" stroke-width="0" fill="#000" />
<rect x="438.1" y="526.6" width="6.6" height="6.6" stroke="none" stroke-width="0" fill="#000" />
<circle cx="282.8" cy="492.2" r="2.9" fill="none" stroke="#d0202a" stroke-width="1.2"/>
<circle cx="306" cy="466.9" r="2.9" fill="none" stroke="#d0202a" stroke-width="1.2"/>
<circle cx="386.6" cy="465.8" r="2.9" fill="none" stroke="#d0202a" stroke-width="1.2"/>
<circle cx="425.8" cy="450.2" r="2.9" fill="none" stroke="#d0202a" stroke-width="1.2"/>
<circle cx="441.4" cy="444.8" r="2.9" fill="none" stroke="#d0202a" stroke-width="1.2"/>
<rect x="410.3" y="559" width="84.3" height="28.6" stroke="#000" stroke-width="1.4" fill="#fff" />
<rect x="420.5" y="563" width="6.2" height="6.2" stroke="none" stroke-width="0" fill="#000" />
<circle cx="423.5" cy="577.5" r="2.6" fill="none" stroke="#d0202a" stroke-width="1.1"/>
<text x="435.6" y="570" font-size="9.2" font-family='"Liberation Sans", sans-serif' fill="#333" textLength="55" lengthAdjust="spacingAndGlyphs">@ V<tspan font-size="5" dy="2">c</tspan><tspan dy="-2"> = +1.0 V</tspan></text>
<text x="435.6" y="581.8" font-size="9.2" font-family='"Liberation Sans", sans-serif' fill="#333" textLength="55" lengthAdjust="spacingAndGlyphs">@ V<tspan font-size="5" dy="2">c</tspan><tspan dy="-2"> = +2.0 V</tspan></text>
<text x="0" y="0" font-size="13.8" font-family='"Liberation Sans", sans-serif' fill="#222" text-anchor="middle" textLength="160" lengthAdjust="spacingAndGlyphs" transform="translate(210.2,488.2) rotate(-90)">Leakage Current (A/cm<tspan font-size="9" dy="-5.5">2</tspan><tspan dy="5.5">)</tspan></text>
<text x="236.1" y="619.5" font-size="14" font-family='"Liberation Sans", sans-serif' fill="#222" style="white-space:pre" textLength="262.5" lengthAdjust="spacingAndGlyphs">Capacitance Density @ V<tspan font-size="8" dy="3.5">g</tspan><tspan dy="-3.5"> = 0 (fF/&#956;m</tspan><tspan font-size="12" dy="-5">2</tspan><tspan dy="5">)</tspan></text>
<rect x="579.5" y="391.8" width="253.7" height="194.1" stroke="#333" stroke-width="1.4" fill="none" />
<line x1="576.3" y1="391.8" x2="579.5" y2="391.8" stroke="#333" stroke-width="1" />
<text x="573" y="394.7" font-size="8" font-family='"Liberation Sans", sans-serif' fill="#555" text-anchor="end" >1</text>
<line x1="576.3" y1="419.53" x2="579.5" y2="419.53" stroke="#333" stroke-width="1" />
<text x="573" y="422.43" font-size="8" font-family='"Liberation Sans", sans-serif' fill="#555" text-anchor="end" >0.1</text>
<line x1="576.3" y1="447.26" x2="579.5" y2="447.26" stroke="#333" stroke-width="1" />
<text x="573" y="450.16" font-size="8" font-family='"Liberation Sans", sans-serif' fill="#555" text-anchor="end" >0.01</text>
<line x1="576.3" y1="474.99" x2="579.5" y2="474.99" stroke="#333" stroke-width="1" />
<text x="573" y="477.89" font-size="8" font-family='"Liberation Sans", sans-serif' fill="#555" text-anchor="end" >1E-3</text>
<line x1="576.3" y1="502.72" x2="579.5" y2="502.72" stroke="#333" stroke-width="1" />
<text x="573" y="505.62" font-size="8" font-family='"Liberation Sans", sans-serif' fill="#555" text-anchor="end" >1E-4</text>
<line x1="576.3" y1="530.45" x2="579.5" y2="530.45" stroke="#333" stroke-width="1" />
<text x="573" y="533.35" font-size="8" font-family='"Liberation Sans", sans-serif' fill="#555" text-anchor="end" >1E-5</text>
<line x1="576.3" y1="558.18" x2="579.5" y2="558.18" stroke="#333" stroke-width="1" />
<text x="573" y="561.08" font-size="8" font-family='"Liberation Sans", sans-serif' fill="#555" text-anchor="end" >1E-6</text>
<line x1="576.3" y1="585.91" x2="579.5" y2="585.91" stroke="#333" stroke-width="1" />
<text x="573" y="588.81" font-size="8" font-family='"Liberation Sans", sans-serif' fill="#555" text-anchor="end" >1E-7</text>
<line x1="579.5" y1="577.56" x2="580.9" y2="577.56" stroke="#333" stroke-width="0.7" />
<line x1="831.8" y1="577.56" x2="833.2" y2="577.56" stroke="#333" stroke-width="0.7" />
<line x1="579.5" y1="572.68" x2="580.9" y2="572.68" stroke="#333" stroke-width="0.7" />
<line x1="831.8" y1="572.68" x2="833.2" y2="572.68" stroke="#333" stroke-width="0.7" />
<line x1="579.5" y1="569.21" x2="580.9" y2="569.21" stroke="#333" stroke-width="0.7" />
<line x1="831.8" y1="569.21" x2="833.2" y2="569.21" stroke="#333" stroke-width="0.7" />
<line x1="579.5" y1="566.53" x2="580.9" y2="566.53" stroke="#333" stroke-width="0.7" />
<line x1="831.8" y1="566.53" x2="833.2" y2="566.53" stroke="#333" stroke-width="0.7" />
<line x1="579.5" y1="564.33" x2="580.9" y2="564.33" stroke="#333" stroke-width="0.7" />
<line x1="831.8" y1="564.33" x2="833.2" y2="564.33" stroke="#333" stroke-width="0.7" />
<line x1="579.5" y1="562.48" x2="580.9" y2="562.48" stroke="#333" stroke-width="0.7" />
<line x1="831.8" y1="562.48" x2="833.2" y2="562.48" stroke="#333" stroke-width="0.7" />
<line x1="579.5" y1="560.87" x2="580.9" y2="560.87" stroke="#333" stroke-width="0.7" />
<line x1="831.8" y1="560.87" x2="833.2" y2="560.87" stroke="#333" stroke-width="0.7" />
<line x1="579.5" y1="559.45" x2="580.9" y2="559.45" stroke="#333" stroke-width="0.7" />
<line x1="831.8" y1="559.45" x2="833.2" y2="559.45" stroke="#333" stroke-width="0.7" />
<line x1="579.5" y1="549.83" x2="580.9" y2="549.83" stroke="#333" stroke-width="0.7" />
<line x1="831.8" y1="549.83" x2="833.2" y2="549.83" stroke="#333" stroke-width="0.7" />
<line x1="579.5" y1="544.95" x2="580.9" y2="544.95" stroke="#333" stroke-width="0.7" />
<line x1="831.8" y1="544.95" x2="833.2" y2="544.95" stroke="#333" stroke-width="0.7" />
<line x1="579.5" y1="541.48" x2="580.9" y2="541.48" stroke="#333" stroke-width="0.7" />
<line x1="831.8" y1="541.48" x2="833.2" y2="541.48" stroke="#333" stroke-width="0.7" />
<line x1="579.5" y1="538.8" x2="580.9" y2="538.8" stroke="#333" stroke-width="0.7" />
<line x1="831.8" y1="538.8" x2="833.2" y2="538.8" stroke="#333" stroke-width="0.7" />
<line x1="579.5" y1="536.6" x2="580.9" y2="536.6" stroke="#333" stroke-width="0.7" />
<line x1="831.8" y1="536.6" x2="833.2" y2="536.6" stroke="#333" stroke-width="0.7" />
<line x1="579.5" y1="534.75" x2="580.9" y2="534.75" stroke="#333" stroke-width="0.7" />
<line x1="831.8" y1="534.75" x2="833.2" y2="534.75" stroke="#333" stroke-width="0.7" />
<line x1="579.5" y1="533.14" x2="580.9" y2="533.14" stroke="#333" stroke-width="0.7" />
<line x1="831.8" y1="533.14" x2="833.2" y2="533.14" stroke="#333" stroke-width="0.7" />
<line x1="579.5" y1="531.72" x2="580.9" y2="531.72" stroke="#333" stroke-width="0.7" />
<line x1="831.8" y1="531.72" x2="833.2" y2="531.72" stroke="#333" stroke-width="0.7" />
<line x1="579.5" y1="522.1" x2="580.9" y2="522.1" stroke="#333" stroke-width="0.7" />
<line x1="831.8" y1="522.1" x2="833.2" y2="522.1" stroke="#333" stroke-width="0.7" />
<line x1="579.5" y1="517.22" x2="580.9" y2="517.22" stroke="#333" stroke-width="0.7" />
<line x1="831.8" y1="517.22" x2="833.2" y2="517.22" stroke="#333" stroke-width="0.7" />
<line x1="579.5" y1="513.75" x2="580.9" y2="513.75" stroke="#333" stroke-width="0.7" />
<line x1="831.8" y1="513.75" x2="833.2" y2="513.75" stroke="#333" stroke-width="0.7" />
<line x1="579.5" y1="511.07" x2="580.9" y2="511.07" stroke="#333" stroke-width="0.7" />
<line x1="831.8" y1="511.07" x2="833.2" y2="511.07" stroke="#333" stroke-width="0.7" />
<line x1="579.5" y1="508.87" x2="580.9" y2="508.87" stroke="#333" stroke-width="0.7" />
<line x1="831.8" y1="508.87" x2="833.2" y2="508.87" stroke="#333" stroke-width="0.7" />
<line x1="579.5" y1="507.02" x2="580.9" y2="507.02" stroke="#333" stroke-width="0.7" />
<line x1="831.8" y1="507.02" x2="833.2" y2="507.02" stroke="#333" stroke-width="0.7" />
<line x1="579.5" y1="505.41" x2="580.9" y2="505.41" stroke="#333" stroke-width="0.7" />
<line x1="831.8" y1="505.41" x2="833.2" y2="505.41" stroke="#333" stroke-width="0.7" />
<line x1="579.5" y1="503.99" x2="580.9" y2="503.99" stroke="#333" stroke-width="0.7" />
<line x1="831.8" y1="503.99" x2="833.2" y2="503.99" stroke="#333" stroke-width="0.7" />
<line x1="579.5" y1="494.37" x2="580.9" y2="494.37" stroke="#333" stroke-width="0.7" />
<line x1="831.8" y1="494.37" x2="833.2" y2="494.37" stroke="#333" stroke-width="0.7" />
<line x1="579.5" y1="489.49" x2="580.9" y2="489.49" stroke="#333" stroke-width="0.7" />
<line x1="831.8" y1="489.49" x2="833.2" y2="489.49" stroke="#333" stroke-width="0.7" />
<line x1="579.5" y1="486.02" x2="580.9" y2="486.02" stroke="#333" stroke-width="0.7" />
<line x1="831.8" y1="486.02" x2="833.2" y2="486.02" stroke="#333" stroke-width="0.7" />
<line x1="579.5" y1="483.34" x2="580.9" y2="483.34" stroke="#333" stroke-width="0.7" />
<line x1="831.8" y1="483.34" x2="833.2" y2="483.34" stroke="#333" stroke-width="0.7" />
<line x1="579.5" y1="481.14" x2="580.9" y2="481.14" stroke="#333" stroke-width="0.7" />
<line x1="831.8" y1="481.14" x2="833.2" y2="481.14" stroke="#333" stroke-width="0.7" />
<line x1="579.5" y1="479.29" x2="580.9" y2="479.29" stroke="#333" stroke-width="0.7" />
<line x1="831.8" y1="479.29" x2="833.2" y2="479.29" stroke="#333" stroke-width="0.7" />
<line x1="579.5" y1="477.68" x2="580.9" y2="477.68" stroke="#333" stroke-width="0.7" />
<line x1="831.8" y1="477.68" x2="833.2" y2="477.68" stroke="#333" stroke-width="0.7" />
<line x1="579.5" y1="476.26" x2="580.9" y2="476.26" stroke="#333" stroke-width="0.7" />
<line x1="831.8" y1="476.26" x2="833.2" y2="476.26" stroke="#333" stroke-width="0.7" />
<line x1="579.5" y1="466.64" x2="580.9" y2="466.64" stroke="#333" stroke-width="0.7" />
<line x1="831.8" y1="466.64" x2="833.2" y2="466.64" stroke="#333" stroke-width="0.7" />
<line x1="579.5" y1="461.76" x2="580.9" y2="461.76" stroke="#333" stroke-width="0.7" />
<line x1="831.8" y1="461.76" x2="833.2" y2="461.76" stroke="#333" stroke-width="0.7" />
<line x1="579.5" y1="458.29" x2="580.9" y2="458.29" stroke="#333" stroke-width="0.7" />
<line x1="831.8" y1="458.29" x2="833.2" y2="458.29" stroke="#333" stroke-width="0.7" />
<line x1="579.5" y1="455.61" x2="580.9" y2="455.61" stroke="#333" stroke-width="0.7" />
<line x1="831.8" y1="455.61" x2="833.2" y2="455.61" stroke="#333" stroke-width="0.7" />
<line x1="579.5" y1="453.41" x2="580.9" y2="453.41" stroke="#333" stroke-width="0.7" />
<line x1="831.8" y1="453.41" x2="833.2" y2="453.41" stroke="#333" stroke-width="0.7" />
<line x1="579.5" y1="451.56" x2="580.9" y2="451.56" stroke="#333" stroke-width="0.7" />
<line x1="831.8" y1="451.56" x2="833.2" y2="451.56" stroke="#333" stroke-width="0.7" />
<line x1="579.5" y1="449.95" x2="580.9" y2="449.95" stroke="#333" stroke-width="0.7" />
<line x1="831.8" y1="449.95" x2="833.2" y2="449.95" stroke="#333" stroke-width="0.7" />
<line x1="579.5" y1="448.53" x2="580.9" y2="448.53" stroke="#333" stroke-width="0.7" />
<line x1="831.8" y1="448.53" x2="833.2" y2="448.53" stroke="#333" stroke-width="0.7" />
<line x1="579.5" y1="438.91" x2="580.9" y2="438.91" stroke="#333" stroke-width="0.7" />
<line x1="831.8" y1="438.91" x2="833.2" y2="438.91" stroke="#333" stroke-width="0.7" />
<line x1="579.5" y1="434.03" x2="580.9" y2="434.03" stroke="#333" stroke-width="0.7" />
<line x1="831.8" y1="434.03" x2="833.2" y2="434.03" stroke="#333" stroke-width="0.7" />
<line x1="579.5" y1="430.56" x2="580.9" y2="430.56" stroke="#333" stroke-width="0.7" />
<line x1="831.8" y1="430.56" x2="833.2" y2="430.56" stroke="#333" stroke-width="0.7" />
<line x1="579.5" y1="427.88" x2="580.9" y2="427.88" stroke="#333" stroke-width="0.7" />
<line x1="831.8" y1="427.88" x2="833.2" y2="427.88" stroke="#333" stroke-width="0.7" />
<line x1="579.5" y1="425.68" x2="580.9" y2="425.68" stroke="#333" stroke-width="0.7" />
<line x1="831.8" y1="425.68" x2="833.2" y2="425.68" stroke="#333" stroke-width="0.7" />
<line x1="579.5" y1="423.83" x2="580.9" y2="423.83" stroke="#333" stroke-width="0.7" />
<line x1="831.8" y1="423.83" x2="833.2" y2="423.83" stroke="#333" stroke-width="0.7" />
<line x1="579.5" y1="422.22" x2="580.9" y2="422.22" stroke="#333" stroke-width="0.7" />
<line x1="831.8" y1="422.22" x2="833.2" y2="422.22" stroke="#333" stroke-width="0.7" />
<line x1="579.5" y1="420.8" x2="580.9" y2="420.8" stroke="#333" stroke-width="0.7" />
<line x1="831.8" y1="420.8" x2="833.2" y2="420.8" stroke="#333" stroke-width="0.7" />
<line x1="579.5" y1="411.18" x2="580.9" y2="411.18" stroke="#333" stroke-width="0.7" />
<line x1="831.8" y1="411.18" x2="833.2" y2="411.18" stroke="#333" stroke-width="0.7" />
<line x1="579.5" y1="406.3" x2="580.9" y2="406.3" stroke="#333" stroke-width="0.7" />
<line x1="831.8" y1="406.3" x2="833.2" y2="406.3" stroke="#333" stroke-width="0.7" />
<line x1="579.5" y1="402.83" x2="580.9" y2="402.83" stroke="#333" stroke-width="0.7" />
<line x1="831.8" y1="402.83" x2="833.2" y2="402.83" stroke="#333" stroke-width="0.7" />
<line x1="579.5" y1="400.15" x2="580.9" y2="400.15" stroke="#333" stroke-width="0.7" />
<line x1="831.8" y1="400.15" x2="833.2" y2="400.15" stroke="#333" stroke-width="0.7" />
<line x1="579.5" y1="397.95" x2="580.9" y2="397.95" stroke="#333" stroke-width="0.7" />
<line x1="831.8" y1="397.95" x2="833.2" y2="397.95" stroke="#333" stroke-width="0.7" />
<line x1="579.5" y1="396.1" x2="580.9" y2="396.1" stroke="#333" stroke-width="0.7" />
<line x1="831.8" y1="396.1" x2="833.2" y2="396.1" stroke="#333" stroke-width="0.7" />
<line x1="579.5" y1="394.49" x2="580.9" y2="394.49" stroke="#333" stroke-width="0.7" />
<line x1="831.8" y1="394.49" x2="833.2" y2="394.49" stroke="#333" stroke-width="0.7" />
<line x1="579.5" y1="393.07" x2="580.9" y2="393.07" stroke="#333" stroke-width="0.7" />
<line x1="831.8" y1="393.07" x2="833.2" y2="393.07" stroke="#333" stroke-width="0.7" />
<line x1="579.5" y1="585.9" x2="579.5" y2="588.9" stroke="#333" stroke-width="1" />
<text x="579.5" y="598.6" font-size="7.8" font-family='"Liberation Sans", sans-serif' fill="#555" text-anchor="middle" >30</text>
<line x1="664.07" y1="585.9" x2="664.07" y2="588.9" stroke="#333" stroke-width="1" />
<text x="664.07" y="598.6" font-size="7.8" font-family='"Liberation Sans", sans-serif' fill="#555" text-anchor="middle" >35</text>
<line x1="748.63" y1="585.9" x2="748.63" y2="588.9" stroke="#333" stroke-width="1" />
<text x="748.63" y="598.6" font-size="7.8" font-family='"Liberation Sans", sans-serif' fill="#555" text-anchor="middle" >40</text>
<line x1="833.2" y1="585.9" x2="833.2" y2="588.9" stroke="#333" stroke-width="1" />
<text x="833.2" y="598.6" font-size="7.8" font-family='"Liberation Sans", sans-serif' fill="#555" text-anchor="middle" >45</text>
<line x1="596.41" y1="585.9" x2="596.41" y2="587.4" stroke="#333" stroke-width="0.7" />
<line x1="596.41" y1="391.8" x2="596.41" y2="393.3" stroke="#333" stroke-width="0.7" />
<line x1="613.33" y1="585.9" x2="613.33" y2="587.4" stroke="#333" stroke-width="0.7" />
<line x1="613.33" y1="391.8" x2="613.33" y2="393.3" stroke="#333" stroke-width="0.7" />
<line x1="630.24" y1="585.9" x2="630.24" y2="587.4" stroke="#333" stroke-width="0.7" />
<line x1="630.24" y1="391.8" x2="630.24" y2="393.3" stroke="#333" stroke-width="0.7" />
<line x1="647.15" y1="585.9" x2="647.15" y2="587.4" stroke="#333" stroke-width="0.7" />
<line x1="647.15" y1="391.8" x2="647.15" y2="393.3" stroke="#333" stroke-width="0.7" />
<line x1="680.98" y1="585.9" x2="680.98" y2="587.4" stroke="#333" stroke-width="0.7" />
<line x1="680.98" y1="391.8" x2="680.98" y2="393.3" stroke="#333" stroke-width="0.7" />
<line x1="697.89" y1="585.9" x2="697.89" y2="587.4" stroke="#333" stroke-width="0.7" />
<line x1="697.89" y1="391.8" x2="697.89" y2="393.3" stroke="#333" stroke-width="0.7" />
<line x1="714.81" y1="585.9" x2="714.81" y2="587.4" stroke="#333" stroke-width="0.7" />
<line x1="714.81" y1="391.8" x2="714.81" y2="393.3" stroke="#333" stroke-width="0.7" />
<line x1="731.72" y1="585.9" x2="731.72" y2="587.4" stroke="#333" stroke-width="0.7" />
<line x1="731.72" y1="391.8" x2="731.72" y2="393.3" stroke="#333" stroke-width="0.7" />
<line x1="765.55" y1="585.9" x2="765.55" y2="587.4" stroke="#333" stroke-width="0.7" />
<line x1="765.55" y1="391.8" x2="765.55" y2="393.3" stroke="#333" stroke-width="0.7" />
<line x1="782.46" y1="585.9" x2="782.46" y2="587.4" stroke="#333" stroke-width="0.7" />
<line x1="782.46" y1="391.8" x2="782.46" y2="393.3" stroke="#333" stroke-width="0.7" />
<line x1="799.37" y1="585.9" x2="799.37" y2="587.4" stroke="#333" stroke-width="0.7" />
<line x1="799.37" y1="391.8" x2="799.37" y2="393.3" stroke="#333" stroke-width="0.7" />
<line x1="816.29" y1="585.9" x2="816.29" y2="587.4" stroke="#333" stroke-width="0.7" />
<line x1="816.29" y1="391.8" x2="816.29" y2="393.3" stroke="#333" stroke-width="0.7" />
<text x="595.8" y="425" font-size="18" font-family='"Liberation Serif", serif' fill="#111" text-anchor="start" >b)</text>
<line x1="719.5" y1="438" x2="770" y2="438" stroke="#e03030" stroke-width="1.0" />
<line x1="744.5" y1="431.4" x2="744.5" y2="455" stroke="#e03030" stroke-width="1.0" />
<line x1="719.5" y1="435.8" x2="719.5" y2="440.2" stroke="#e03030" stroke-width="1.1" />
<line x1="770" y1="435.8" x2="770" y2="440.2" stroke="#e03030" stroke-width="1.1" />
<line x1="742.3" y1="431.4" x2="746.7" y2="431.4" stroke="#e03030" stroke-width="1.1" />
<line x1="742.3" y1="455" x2="746.7" y2="455" stroke="#e03030" stroke-width="1.1" />
<circle cx="744.5" cy="438" r="2.6" fill="#fff" stroke="#e03030" stroke-width="1.1"/>
<line x1="724.2" y1="430.8" x2="740.5" y2="430.8" stroke="#e02020" stroke-width="1.0" />
<line x1="732" y1="426.7" x2="732" y2="436.7" stroke="#e02020" stroke-width="1.0" />
<line x1="724.2" y1="428.6" x2="724.2" y2="433" stroke="#e02020" stroke-width="1.1" />
<line x1="740.5" y1="428.6" x2="740.5" y2="433" stroke="#e02020" stroke-width="1.1" />
<line x1="729.8" y1="426.7" x2="734.2" y2="426.7" stroke="#e02020" stroke-width="1.1" />
<line x1="729.8" y1="436.7" x2="734.2" y2="436.7" stroke="#e02020" stroke-width="1.1" />
<circle cx="732" cy="430.8" r="3" fill="#e02020" stroke="#e02020" stroke-width="0.8"/>
<line x1="651" y1="492" x2="663.6" y2="492" stroke="#111" stroke-width="1.0" />
<line x1="657" y1="468.2" x2="657" y2="585.9" stroke="#111" stroke-width="1.0" />
<line x1="651" y1="489.8" x2="651" y2="494.2" stroke="#111" stroke-width="1.1" />
<line x1="663.6" y1="489.8" x2="663.6" y2="494.2" stroke="#111" stroke-width="1.1" />
<line x1="654.8" y1="468.2" x2="659.2" y2="468.2" stroke="#111" stroke-width="1.1" />
<rect x="654.3" y="489.3" width="5.4" height="5.4" stroke="#111" stroke-width="1.1" fill="#fff" />
<line x1="672.6" y1="514.4" x2="688.1" y2="514.4" stroke="#111" stroke-width="1.0" />
<line x1="679.8" y1="474" x2="679.8" y2="585.9" stroke="#111" stroke-width="1.0" />
<line x1="672.6" y1="512.2" x2="672.6" y2="516.6" stroke="#111" stroke-width="1.1" />
<line x1="688.1" y1="512.2" x2="688.1" y2="516.6" stroke="#111" stroke-width="1.1" />
<line x1="677.6" y1="474" x2="682" y2="474" stroke="#111" stroke-width="1.1" />
<rect x="676.8" y="511.4" width="6" height="6" stroke="none" stroke-width="0" fill="#000" />
<circle cx="727.8" cy="538.6" r="2.6" fill="#fff" stroke="#e03030" stroke-width="1.1"/>
<circle cx="727.8" cy="551.2" r="2.9" fill="#e02020"/>
<rect x="725.3" y="561.4" width="5" height="5" stroke="#111" stroke-width="1" fill="#fff" />
<rect x="725" y="573.6" width="5.8" height="5.8" stroke="none" stroke-width="0" fill="#000" />
<text x="743.7" y="542" font-size="9.6" font-family='"Liberation Sans", sans-serif' fill="#333" text-anchor="start" >BHB</text>
<text x="743.7" y="554.6" font-size="9.6" font-family='"Liberation Sans", sans-serif' fill="#333" text-anchor="start" >BHB w/ treatment</text>
<text x="743.7" y="567.3" font-size="9.6" font-family='"Liberation Sans", sans-serif' fill="#333" text-anchor="start" >HBH</text>
<text x="743.7" y="579.9" font-size="9.6" font-family='"Liberation Sans", sans-serif' fill="#333" text-anchor="start" >HBH w/ treatment</text>
<text x="0" y="0" font-size="13.2" font-family='"Liberation Sans", sans-serif' fill="#222" text-anchor="middle" textLength="182.6" lengthAdjust="spacingAndGlyphs" transform="translate(553.2,487.7) rotate(-90)">Leakage Current @ +1V(A/cm<tspan font-size="8.5" dy="-5">2</tspan><tspan dy="5">)</tspan></text>
<text x="591.9" y="613" font-size="13.5" font-family='"Liberation Sans", sans-serif' fill="#222" textLength="216" lengthAdjust="spacingAndGlyphs">Capacitance Density @ 0V (fF/&#956;m<tspan font-size="8.5" dy="-5">2</tspan><tspan dy="5">)</tspan></text>
<rect x="909.5" y="395" width="266.5" height="191.3" stroke="#333" stroke-width="1.4" fill="none" />
<line x1="906.3" y1="586.3" x2="909.5" y2="586.3" stroke="#333" stroke-width="1" />
<text x="903.5" y="589.9" font-size="8.2" font-family='"Liberation Sans", sans-serif' fill="#333" text-anchor="end" textLength="8.8" lengthAdjust="spacingAndGlyphs" >26</text>
<line x1="1173" y1="586.3" x2="1176" y2="586.3" stroke="#333" stroke-width="0.9" />
<line x1="906.3" y1="567.17" x2="909.5" y2="567.17" stroke="#333" stroke-width="1" />
<text x="903.5" y="570.77" font-size="8.2" font-family='"Liberation Sans", sans-serif' fill="#333" text-anchor="end" textLength="8.8" lengthAdjust="spacingAndGlyphs" >27</text>
<line x1="1173" y1="567.17" x2="1176" y2="567.17" stroke="#333" stroke-width="0.9" />
<line x1="906.3" y1="548.04" x2="909.5" y2="548.04" stroke="#333" stroke-width="1" />
<text x="903.5" y="551.64" font-size="8.2" font-family='"Liberation Sans", sans-serif' fill="#333" text-anchor="end" textLength="8.8" lengthAdjust="spacingAndGlyphs" >28</text>
<line x1="1173" y1="548.04" x2="1176" y2="548.04" stroke="#333" stroke-width="0.9" />
<line x1="906.3" y1="528.91" x2="909.5" y2="528.91" stroke="#333" stroke-width="1" />
<text x="903.5" y="532.51" font-size="8.2" font-family='"Liberation Sans", sans-serif' fill="#333" text-anchor="end" textLength="8.8" lengthAdjust="spacingAndGlyphs" >29</text>
<line x1="1173" y1="528.91" x2="1176" y2="528.91" stroke="#333" stroke-width="0.9" />
<line x1="906.3" y1="509.78" x2="909.5" y2="509.78" stroke="#333" stroke-width="1" />
<text x="903.5" y="513.38" font-size="8.2" font-family='"Liberation Sans", sans-serif' fill="#333" text-anchor="end" textLength="8.8" lengthAdjust="spacingAndGlyphs" >30</text>
<line x1="1173" y1="509.78" x2="1176" y2="509.78" stroke="#333" stroke-width="0.9" />
<line x1="906.3" y1="490.65" x2="909.5" y2="490.65" stroke="#333" stroke-width="1" />
<text x="903.5" y="494.25" font-size="8.2" font-family='"Liberation Sans", sans-serif' fill="#333" text-anchor="end" textLength="8.8" lengthAdjust="spacingAndGlyphs" >31</text>
<line x1="1173" y1="490.65" x2="1176" y2="490.65" stroke="#333" stroke-width="0.9" />
<line x1="906.3" y1="471.52" x2="909.5" y2="471.52" stroke="#333" stroke-width="1" />
<text x="903.5" y="475.12" font-size="8.2" font-family='"Liberation Sans", sans-serif' fill="#333" text-anchor="end" textLength="8.8" lengthAdjust="spacingAndGlyphs" >32</text>
<line x1="1173" y1="471.52" x2="1176" y2="471.52" stroke="#333" stroke-width="0.9" />
<line x1="906.3" y1="452.39" x2="909.5" y2="452.39" stroke="#333" stroke-width="1" />
<text x="903.5" y="455.99" font-size="8.2" font-family='"Liberation Sans", sans-serif' fill="#333" text-anchor="end" textLength="8.8" lengthAdjust="spacingAndGlyphs" >33</text>
<line x1="1173" y1="452.39" x2="1176" y2="452.39" stroke="#333" stroke-width="0.9" />
<line x1="906.3" y1="433.26" x2="909.5" y2="433.26" stroke="#333" stroke-width="1" />
<text x="903.5" y="436.86" font-size="8.2" font-family='"Liberation Sans", sans-serif' fill="#333" text-anchor="end" textLength="8.8" lengthAdjust="spacingAndGlyphs" >34</text>
<line x1="1173" y1="433.26" x2="1176" y2="433.26" stroke="#333" stroke-width="0.9" />
<line x1="906.3" y1="414.13" x2="909.5" y2="414.13" stroke="#333" stroke-width="1" />
<text x="903.5" y="417.73" font-size="8.2" font-family='"Liberation Sans", sans-serif' fill="#333" text-anchor="end" textLength="8.8" lengthAdjust="spacingAndGlyphs" >35</text>
<line x1="1173" y1="414.13" x2="1176" y2="414.13" stroke="#333" stroke-width="0.9" />
<line x1="906.3" y1="395" x2="909.5" y2="395" stroke="#333" stroke-width="1" />
<text x="903.5" y="398.6" font-size="8.2" font-family='"Liberation Sans", sans-serif' fill="#333" text-anchor="end" textLength="8.8" lengthAdjust="spacingAndGlyphs" >36</text>
<line x1="1173" y1="395" x2="1176" y2="395" stroke="#333" stroke-width="0.9" />
<line x1="909.5" y1="576.73" x2="911.1" y2="576.73" stroke="#333" stroke-width="0.8" />
<line x1="1174.4" y1="576.73" x2="1176" y2="576.73" stroke="#333" stroke-width="0.8" />
<line x1="909.5" y1="557.61" x2="911.1" y2="557.61" stroke="#333" stroke-width="0.8" />
<line x1="1174.4" y1="557.61" x2="1176" y2="557.61" stroke="#333" stroke-width="0.8" />
<line x1="909.5" y1="538.47" x2="911.1" y2="538.47" stroke="#333" stroke-width="0.8" />
<line x1="1174.4" y1="538.47" x2="1176" y2="538.47" stroke="#333" stroke-width="0.8" />
<line x1="909.5" y1="519.35" x2="911.1" y2="519.35" stroke="#333" stroke-width="0.8" />
<line x1="1174.4" y1="519.35" x2="1176" y2="519.35" stroke="#333" stroke-width="0.8" />
<line x1="909.5" y1="500.21" x2="911.1" y2="500.21" stroke="#333" stroke-width="0.8" />
<line x1="1174.4" y1="500.21" x2="1176" y2="500.21" stroke="#333" stroke-width="0.8" />
<line x1="909.5" y1="481.08" x2="911.1" y2="481.08" stroke="#333" stroke-width="0.8" />
<line x1="1174.4" y1="481.08" x2="1176" y2="481.08" stroke="#333" stroke-width="0.8" />
<line x1="909.5" y1="461.95" x2="911.1" y2="461.95" stroke="#333" stroke-width="0.8" />
<line x1="1174.4" y1="461.95" x2="1176" y2="461.95" stroke="#333" stroke-width="0.8" />
<line x1="909.5" y1="442.82" x2="911.1" y2="442.82" stroke="#333" stroke-width="0.8" />
<line x1="1174.4" y1="442.82" x2="1176" y2="442.82" stroke="#333" stroke-width="0.8" />
<line x1="909.5" y1="423.69" x2="911.1" y2="423.69" stroke="#333" stroke-width="0.8" />
<line x1="1174.4" y1="423.69" x2="1176" y2="423.69" stroke="#333" stroke-width="0.8" />
<line x1="909.5" y1="404.56" x2="911.1" y2="404.56" stroke="#333" stroke-width="0.8" />
<line x1="1174.4" y1="404.56" x2="1176" y2="404.56" stroke="#333" stroke-width="0.8" />
<line x1="909.5" y1="586.3" x2="909.5" y2="589.5" stroke="#333" stroke-width="1" />
<line x1="909.5" y1="395" x2="909.5" y2="398" stroke="#333" stroke-width="0.9" />
<line x1="929.56" y1="586.3" x2="929.56" y2="587.9" stroke="#333" stroke-width="0.8" />
<line x1="929.56" y1="395" x2="929.56" y2="396.6" stroke="#333" stroke-width="0.8" />
<line x1="941.29" y1="586.3" x2="941.29" y2="587.9" stroke="#333" stroke-width="0.8" />
<line x1="941.29" y1="395" x2="941.29" y2="396.6" stroke="#333" stroke-width="0.8" />
<line x1="949.61" y1="586.3" x2="949.61" y2="587.9" stroke="#333" stroke-width="0.8" />
<line x1="949.61" y1="395" x2="949.61" y2="396.6" stroke="#333" stroke-width="0.8" />
<line x1="956.07" y1="586.3" x2="956.07" y2="587.9" stroke="#333" stroke-width="0.8" />
<line x1="956.07" y1="395" x2="956.07" y2="396.6" stroke="#333" stroke-width="0.8" />
<line x1="961.34" y1="586.3" x2="961.34" y2="587.9" stroke="#333" stroke-width="0.8" />
<line x1="961.34" y1="395" x2="961.34" y2="396.6" stroke="#333" stroke-width="0.8" />
<line x1="965.8" y1="586.3" x2="965.8" y2="587.9" stroke="#333" stroke-width="0.8" />
<line x1="965.8" y1="395" x2="965.8" y2="396.6" stroke="#333" stroke-width="0.8" />
<line x1="969.67" y1="586.3" x2="969.67" y2="587.9" stroke="#333" stroke-width="0.8" />
<line x1="969.67" y1="395" x2="969.67" y2="396.6" stroke="#333" stroke-width="0.8" />
<line x1="973.08" y1="586.3" x2="973.08" y2="587.9" stroke="#333" stroke-width="0.8" />
<line x1="973.08" y1="395" x2="973.08" y2="396.6" stroke="#333" stroke-width="0.8" />
<line x1="976.12" y1="586.3" x2="976.12" y2="589.5" stroke="#333" stroke-width="1" />
<line x1="976.12" y1="395" x2="976.12" y2="398" stroke="#333" stroke-width="0.9" />
<line x1="996.18" y1="586.3" x2="996.18" y2="587.9" stroke="#333" stroke-width="0.8" />
<line x1="996.18" y1="395" x2="996.18" y2="396.6" stroke="#333" stroke-width="0.8" />
<line x1="1007.91" y1="586.3" x2="1007.91" y2="587.9" stroke="#333" stroke-width="0.8" />
<line x1="1007.91" y1="395" x2="1007.91" y2="396.6" stroke="#333" stroke-width="0.8" />
<line x1="1016.24" y1="586.3" x2="1016.24" y2="587.9" stroke="#333" stroke-width="0.8" />
<line x1="1016.24" y1="395" x2="1016.24" y2="396.6" stroke="#333" stroke-width="0.8" />
<line x1="1022.69" y1="586.3" x2="1022.69" y2="587.9" stroke="#333" stroke-width="0.8" />
<line x1="1022.69" y1="395" x2="1022.69" y2="396.6" stroke="#333" stroke-width="0.8" />
<line x1="1027.97" y1="586.3" x2="1027.97" y2="587.9" stroke="#333" stroke-width="0.8" />
<line x1="1027.97" y1="395" x2="1027.97" y2="396.6" stroke="#333" stroke-width="0.8" />
<line x1="1032.43" y1="586.3" x2="1032.43" y2="587.9" stroke="#333" stroke-width="0.8" />
<line x1="1032.43" y1="395" x2="1032.43" y2="396.6" stroke="#333" stroke-width="0.8" />
<line x1="1036.29" y1="586.3" x2="1036.29" y2="587.9" stroke="#333" stroke-width="0.8" />
<line x1="1036.29" y1="395" x2="1036.29" y2="396.6" stroke="#333" stroke-width="0.8" />
<line x1="1039.7" y1="586.3" x2="1039.7" y2="587.9" stroke="#333" stroke-width="0.8" />
<line x1="1039.7" y1="395" x2="1039.7" y2="396.6" stroke="#333" stroke-width="0.8" />
<line x1="1042.75" y1="586.3" x2="1042.75" y2="589.5" stroke="#333" stroke-width="1" />
<line x1="1042.75" y1="395" x2="1042.75" y2="398" stroke="#333" stroke-width="0.9" />
<line x1="1062.81" y1="586.3" x2="1062.81" y2="587.9" stroke="#333" stroke-width="0.8" />
<line x1="1062.81" y1="395" x2="1062.81" y2="396.6" stroke="#333" stroke-width="0.8" />
<line x1="1074.54" y1="586.3" x2="1074.54" y2="587.9" stroke="#333" stroke-width="0.8" />
<line x1="1074.54" y1="395" x2="1074.54" y2="396.6" stroke="#333" stroke-width="0.8" />
<line x1="1082.86" y1="586.3" x2="1082.86" y2="587.9" stroke="#333" stroke-width="0.8" />
<line x1="1082.86" y1="395" x2="1082.86" y2="396.6" stroke="#333" stroke-width="0.8" />
<line x1="1089.32" y1="586.3" x2="1089.32" y2="587.9" stroke="#333" stroke-width="0.8" />
<line x1="1089.32" y1="395" x2="1089.32" y2="396.6" stroke="#333" stroke-width="0.8" />
<line x1="1094.59" y1="586.3" x2="1094.59" y2="587.9" stroke="#333" stroke-width="0.8" />
<line x1="1094.59" y1="395" x2="1094.59" y2="396.6" stroke="#333" stroke-width="0.8" />
<line x1="1099.05" y1="586.3" x2="1099.05" y2="587.9" stroke="#333" stroke-width="0.8" />
<line x1="1099.05" y1="395" x2="1099.05" y2="396.6" stroke="#333" stroke-width="0.8" />
<line x1="1102.92" y1="586.3" x2="1102.92" y2="587.9" stroke="#333" stroke-width="0.8" />
<line x1="1102.92" y1="395" x2="1102.92" y2="396.6" stroke="#333" stroke-width="0.8" />
<line x1="1106.33" y1="586.3" x2="1106.33" y2="587.9" stroke="#333" stroke-width="0.8" />
<line x1="1106.33" y1="395" x2="1106.33" y2="396.6" stroke="#333" stroke-width="0.8" />
<line x1="1109.38" y1="586.3" x2="1109.38" y2="589.5" stroke="#333" stroke-width="1" />
<line x1="1109.38" y1="395" x2="1109.38" y2="398" stroke="#333" stroke-width="0.9" />
<line x1="1129.43" y1="586.3" x2="1129.43" y2="587.9" stroke="#333" stroke-width="0.8" />
<line x1="1129.43" y1="395" x2="1129.43" y2="396.6" stroke="#333" stroke-width="0.8" />
<line x1="1141.16" y1="586.3" x2="1141.16" y2="587.9" stroke="#333" stroke-width="0.8" />
<line x1="1141.16" y1="395" x2="1141.16" y2="396.6" stroke="#333" stroke-width="0.8" />
<line x1="1149.49" y1="586.3" x2="1149.49" y2="587.9" stroke="#333" stroke-width="0.8" />
<line x1="1149.49" y1="395" x2="1149.49" y2="396.6" stroke="#333" stroke-width="0.8" />
<line x1="1155.94" y1="586.3" x2="1155.94" y2="587.9" stroke="#333" stroke-width="0.8" />
<line x1="1155.94" y1="395" x2="1155.94" y2="396.6" stroke="#333" stroke-width="0.8" />
<line x1="1161.22" y1="586.3" x2="1161.22" y2="587.9" stroke="#333" stroke-width="0.8" />
<line x1="1161.22" y1="395" x2="1161.22" y2="396.6" stroke="#333" stroke-width="0.8" />
<line x1="1165.68" y1="586.3" x2="1165.68" y2="587.9" stroke="#333" stroke-width="0.8" />
<line x1="1165.68" y1="395" x2="1165.68" y2="396.6" stroke="#333" stroke-width="0.8" />
<line x1="1169.54" y1="586.3" x2="1169.54" y2="587.9" stroke="#333" stroke-width="0.8" />
<line x1="1169.54" y1="395" x2="1169.54" y2="396.6" stroke="#333" stroke-width="0.8" />
<line x1="1172.95" y1="586.3" x2="1172.95" y2="587.9" stroke="#333" stroke-width="0.8" />
<line x1="1172.95" y1="395" x2="1172.95" y2="396.6" stroke="#333" stroke-width="0.8" />
<line x1="1176" y1="586.3" x2="1176" y2="589.5" stroke="#333" stroke-width="1" />
<line x1="1176" y1="395" x2="1176" y2="398" stroke="#333" stroke-width="0.9" />
<text x="926.5" y="425.8" font-size="19" font-family='"Liberation Serif", serif' fill="#111" text-anchor="start" >c)</text>
<path d="M911.4,565.7 L1008.9,542.5 L1048.2,471.2 L1094.3,429.2 L1166.3,417.6" fill="none" stroke="#111" stroke-width="1.1"/>
<rect x="908.6" y="562.9" width="5.6" height="5.6" stroke="none" stroke-width="0" fill="#000" />
<rect x="1006.1" y="539.7" width="5.6" height="5.6" stroke="none" stroke-width="0" fill="#000" />
<rect x="1045.4" y="468.4" width="5.6" height="5.6" stroke="none" stroke-width="0" fill="#000" />
<rect x="1091.5" y="426.4" width="5.6" height="5.6" stroke="none" stroke-width="0" fill="#000" />
<rect x="1163.5" y="414.8" width="5.6" height="5.6" stroke="none" stroke-width="0" fill="#000" />
<text x="1011" y="571.4" font-size="16.5" font-family='"Liberation Sans", sans-serif' fill="#111" text-anchor="middle" >A</text>
<text x="1050.5" y="507.6" font-size="16.5" font-family='"Liberation Sans", sans-serif' fill="#111" text-anchor="middle" >B</text>
<text x="1097" y="463.7" font-size="16.5" font-family='"Liberation Sans", sans-serif' fill="#111" text-anchor="middle" >C</text>
<text x="1165.6" y="446" font-size="16.5" font-family='"Liberation Sans", sans-serif' fill="#111" text-anchor="middle" >D</text>
<text x="922.6" y="518.2" font-size="10.5" font-family='"Liberation Sans", sans-serif' fill="#222" text-anchor="start" textLength="13.5" lengthAdjust="spacingAndGlyphs" >no</text>
<text x="922.6" y="532.6" font-size="10.5" font-family='"Liberation Sans", sans-serif' fill="#222" text-anchor="start" textLength="39.3" lengthAdjust="spacingAndGlyphs" >anneal</text>
<line x1="932.5" y1="537.5" x2="918.3" y2="557.3" stroke="#000" stroke-width="1.1" />
<path d="M915.8,560.8 L923.1,556.8 L917.24,552.61 Z" fill="#000"/>
<text x="0" y="0" font-size="13.5" font-family='"Liberation Sans", sans-serif' fill="#222" text-anchor="middle" textLength="161.6" lengthAdjust="spacingAndGlyphs" transform="translate(889.6,476.8) rotate(-90)">relative dielectric constant</text>
<text x="991.2" y="606.2" font-size="12.8" font-family='"Liberation Sans", sans-serif' fill="#222" text-anchor="start" textLength="103" lengthAdjust="spacingAndGlyphs" >thermal budget</text>
<text x="101" y="272" font-size="15.5" font-family='"Liberation Serif", serif' fill="#000" stroke="#000" stroke-width="0.28" style="white-space:pre" textLength="250.9" lengthAdjust="spacingAndGlyphs"><tspan font-weight="bold">Fig. 1.</tspan>  The power cost of  higher  VDD</text>
<text x="82.8" y="291.4" font-size="15.5" font-family='"Liberation Serif", serif' fill="#000" stroke="#000" stroke-width="0.28" style="white-space:pre" textLength="280.8" lengthAdjust="spacingAndGlyphs">required  to  offset  a voltage  droop is a metric</text>
<text x="103.4" y="310.3" font-size="15.5" font-family='"Liberation Serif", serif' fill="#000" stroke="#000" stroke-width="0.28" style="white-space:pre" textLength="237.9" lengthAdjust="spacingAndGlyphs">to compare  noise  mitigation  schemes.</text>
<text x="96.4" y="329.5" font-size="15.5" font-family='"Liberation Serif", serif' fill="#000" stroke="#000" stroke-width="0.28" style="white-space:pre" textLength="255.5" lengthAdjust="spacingAndGlyphs">Significant  benefits  may  be achieved  by</text>
<text x="156.9" y="347.8" font-size="15.5" font-family='"Liberation Serif", serif' fill="#000" stroke="#000" stroke-width="0.28" style="white-space:pre" textLength="134" lengthAdjust="spacingAndGlyphs">doubling  capacitance.</text>
<text x="400.9" y="291.3" font-size="15.5" font-family='"Liberation Serif", serif' fill="#000" stroke="#000" stroke-width="0.28" style="white-space:pre" textLength="792.1" lengthAdjust="spacingAndGlyphs"><tspan font-weight="bold">Fig. 2</tspan>. GI-XRD spectra from  ZrO<tspan font-size="10" dy="3">2</tspan><tspan dy="-3"> on TiN  with  anneals:  a) unannealed,  and following  b) anneal  A, c) anneal  B, d) anneal  C</tspan></text>
<text x="219.4" y="657.6" font-size="16" font-family='"Liberation Serif", serif' fill="#000" stroke="#000" stroke-width="0.28" style="white-space:pre" textLength="842.1" lengthAdjust="spacingAndGlyphs"><tspan font-weight="bold">Fig. 3</tspan>. Capacitance and leakage  change  following  anneal  of a) ZrO<tspan font-size="10" dy="3">2</tspan><tspan dy="-3"> and b) BHB and HBB.  c) &#954; as a function of</tspan></text>
<text x="550.6" y="679.8" font-size="16" font-family='"Liberation Serif", serif' fill="#000" stroke="#000" stroke-width="0.28" style="white-space:pre" textLength="179.2" lengthAdjust="spacingAndGlyphs">thermal  budget for ZrO<tspan font-size="10" dy="3">2</tspan><tspan dy="-3"></tspan></text>
</svg></body></html>
